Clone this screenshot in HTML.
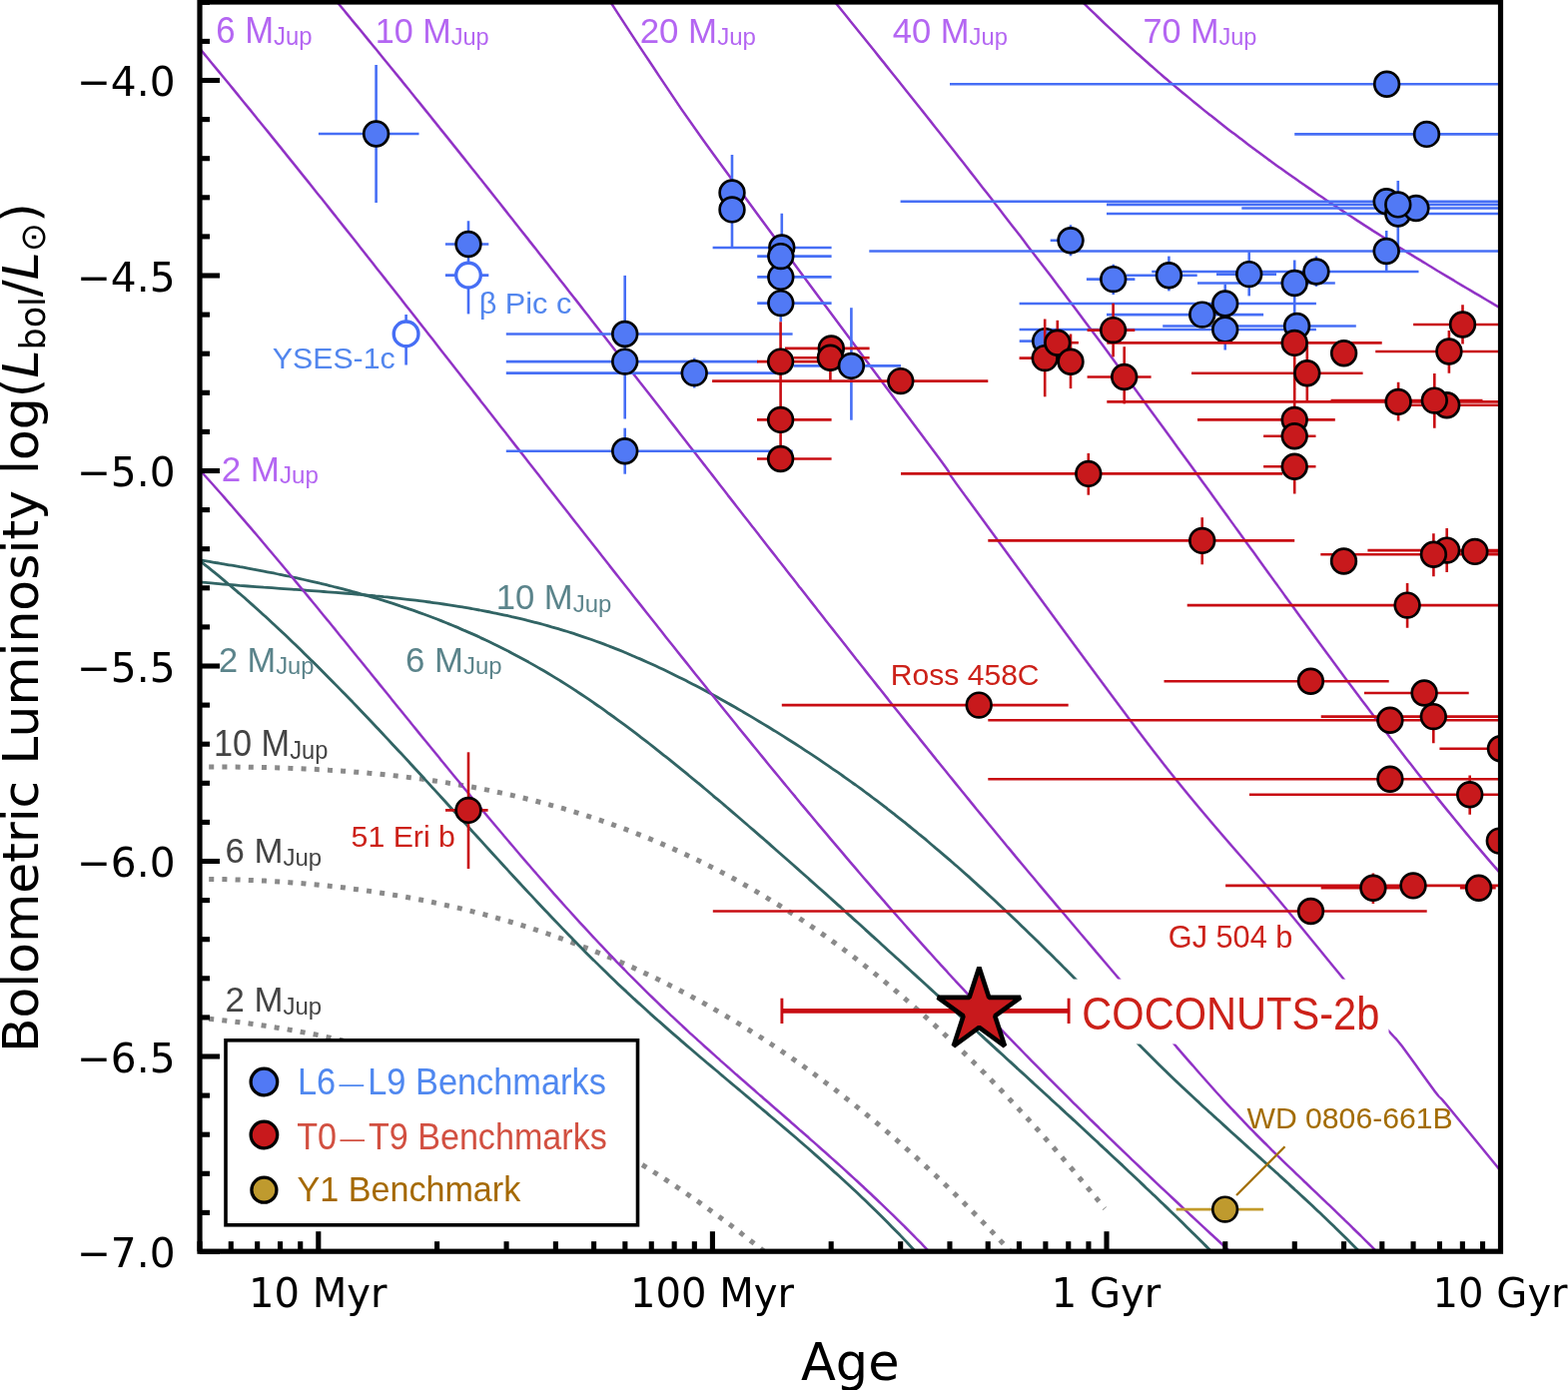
<!DOCTYPE html><html><head><meta charset="utf-8"><style>html,body{margin:0;padding:0;background:#fff;overflow:hidden}svg{display:block}</style></head><body><svg width="1570" height="1392" viewBox="0 0 1570 1392"><rect width="100%" height="100%" fill="#fff"/><defs><clipPath id="ax"><rect x="200" y="2" width="1302.5" height="1251.2"/></clipPath></defs>
<g clip-path="url(#ax)">
<path d="M209.2,768.1 C210.5,768.1 214.5,768.1 217.2,768.1 C219.9,768.1 222.5,768.1 225.2,768.1 C227.9,768.1 230.6,768.1 233.2,768.1 C235.9,768.1 238.6,768.1 241.2,768.2 C243.9,768.2 246.6,768.2 249.2,768.3 C251.9,768.3 254.6,768.4 257.3,768.4 C259.9,768.5 262.6,768.5 265.3,768.6 C267.9,768.6 270.6,768.7 273.3,768.8 C275.9,768.8 278.6,768.9 281.3,769.0 C284.0,769.1 286.6,769.2 289.3,769.3 C292.0,769.3 294.6,769.5 297.3,769.6 C300.0,769.7 302.6,769.8 305.3,769.9 C308.0,770.0 310.6,770.1 313.3,770.3 C316.0,770.4 318.7,770.6 321.3,770.7 C324.0,770.9 326.7,771.0 329.3,771.2 C332.0,771.3 334.7,771.5 337.3,771.7 C340.0,771.9 342.7,772.0 345.4,772.2 C348.0,772.4 350.7,772.6 353.4,772.8 C356.0,773.1 358.7,773.3 361.4,773.5 C364.0,773.7 366.7,773.9 369.4,774.2 C372.0,774.4 374.7,774.7 377.4,774.9 C380.1,775.2 382.7,775.5 385.4,775.7 C388.1,776.0 390.7,776.3 393.4,776.6 C396.1,776.9 398.7,777.2 401.4,777.5 C404.1,777.8 406.8,778.1 409.4,778.5 C412.1,778.8 414.8,779.1 417.4,779.5 C420.1,779.8 422.8,780.2 425.4,780.6 C428.1,780.9 430.8,781.3 433.4,781.7 C436.1,782.1 438.8,782.5 441.5,782.9 C444.1,783.3 446.8,783.7 449.5,784.2 C452.1,784.6 454.8,785.0 457.5,785.5 C460.1,785.9 462.8,786.4 465.5,786.9 C468.2,787.4 470.8,787.8 473.5,788.3 C476.2,788.8 478.8,789.3 481.5,789.9 C484.2,790.4 486.8,790.9 489.5,791.4 C492.2,792.0 494.9,792.5 497.5,793.1 C500.2,793.7 502.9,794.2 505.5,794.8 C508.2,795.4 510.9,796.0 513.5,796.6 C516.2,797.3 518.9,797.9 521.5,798.5 C524.2,799.2 526.9,799.8 529.6,800.5 C532.2,801.1 534.9,801.8 537.6,802.5 C540.2,803.2 542.9,803.9 545.6,804.6 C548.2,805.3 550.9,806.0 553.6,806.8 C556.3,807.5 558.9,808.3 561.6,809.1 C564.3,809.8 566.9,810.6 569.6,811.4 C572.3,812.2 574.9,813.0 577.6,813.8 C580.3,814.7 582.9,815.5 585.6,816.3 C588.3,817.2 591.0,818.1 593.6,818.9 C596.3,819.8 599.0,820.7 601.6,821.6 C604.3,822.5 607.0,823.5 609.6,824.4 C612.3,825.3 615.0,826.3 617.7,827.3 C620.3,828.2 623.0,829.2 625.7,830.2 C628.3,831.2 631.0,832.2 633.7,833.2 C636.3,834.3 639.0,835.3 641.7,836.4 C644.4,837.4 647.0,838.5 649.7,839.6 C652.4,840.7 655.0,841.8 657.7,842.9 C660.4,844.1 663.0,845.2 665.7,846.4 C668.4,847.5 671.0,848.7 673.7,849.9 C676.4,851.1 679.1,852.3 681.7,853.5 C684.4,854.7 687.1,856.0 689.7,857.2 C692.4,858.5 695.1,859.8 697.7,861.0 C700.4,862.3 703.1,863.6 705.8,865.0 C708.4,866.3 711.1,867.6 713.8,869.0 C716.4,870.4 719.1,871.7 721.8,873.1 C724.4,874.5 727.1,875.9 729.8,877.4 C732.5,878.8 735.1,880.3 737.8,881.7 C740.5,883.2 743.1,884.7 745.8,886.2 C748.5,887.7 751.1,889.2 753.8,890.8 C756.5,892.3 759.1,893.9 761.8,895.5 C764.5,897.0 767.2,898.6 769.8,900.3 C772.5,901.9 775.2,903.5 777.8,905.2 C780.5,906.8 783.2,908.5 785.8,910.2 C788.5,911.9 791.2,913.6 793.9,915.3 C796.5,917.1 799.2,918.8 801.9,920.6 C804.5,922.4 807.2,924.2 809.9,926.0 C812.5,927.8 815.2,929.6 817.9,931.5 C820.5,933.4 823.2,935.2 825.9,937.1 C828.6,939.0 831.2,940.9 833.9,942.9 C836.6,944.8 839.2,946.8 841.9,948.7 C844.6,950.7 847.2,952.7 849.9,954.7 C852.6,956.7 855.3,958.8 857.9,960.8 C860.6,962.9 863.3,965.0 865.9,967.1 C868.6,969.2 871.3,971.3 873.9,973.4 C876.6,975.6 879.3,977.7 882.0,979.9 C884.6,982.1 887.3,984.3 890.0,986.5 C892.6,988.7 895.3,991.0 898.0,993.2 C900.6,995.5 903.3,997.8 906.0,1000.0 C908.6,1002.3 911.3,1004.7 914.0,1007.0 C916.7,1009.3 919.3,1011.7 922.0,1014.1 C924.7,1016.5 927.3,1018.9 930.0,1021.3 C932.7,1023.7 935.3,1026.1 938.0,1028.6 C940.7,1031.1 943.4,1033.6 946.0,1036.1 C948.7,1038.6 951.4,1041.1 954.0,1043.6 C956.7,1046.2 959.4,1048.7 962.0,1051.3 C964.7,1053.9 967.4,1056.5 970.0,1059.1 C972.7,1061.7 975.4,1064.4 978.1,1067.0 C980.7,1069.7 983.4,1072.4 986.1,1075.1 C988.7,1077.8 991.4,1080.5 994.1,1083.3 C996.7,1086.0 999.4,1088.8 1002.1,1091.6 C1004.8,1094.3 1007.4,1097.1 1010.1,1100.0 C1012.8,1102.8 1015.4,1105.6 1018.1,1108.5 C1020.8,1111.4 1023.4,1114.3 1026.1,1117.2 C1028.8,1120.1 1031.4,1123.0 1034.1,1125.9 C1036.8,1128.9 1039.5,1131.8 1042.1,1134.8 C1044.8,1137.8 1047.5,1140.8 1050.1,1143.9 C1052.8,1146.9 1055.5,1149.9 1058.1,1153.0 C1060.8,1156.1 1063.5,1159.2 1066.2,1162.3 C1068.8,1165.4 1071.5,1168.5 1074.2,1171.6 C1076.8,1174.8 1079.5,1178.0 1082.2,1181.2 C1084.8,1184.3 1087.5,1187.6 1090.2,1190.8 C1092.9,1194.0 1095.5,1197.3 1098.2,1200.5 C1100.9,1203.8 1104.9,1208.8 1106.2,1210.4" fill="none" stroke="#8a8a8a" stroke-width="5" stroke-linejoin="round" stroke-linecap="butt" stroke-dasharray="5 8.2"/>
<path d="M209.2,880.4 C210.5,880.4 214.6,880.4 217.2,880.5 C219.9,880.5 222.6,880.6 225.3,880.6 C228.0,880.7 230.6,880.8 233.3,880.8 C236.0,880.9 238.7,881.0 241.4,881.1 C244.0,881.2 246.7,881.3 249.4,881.4 C252.1,881.5 254.7,881.6 257.4,881.7 C260.1,881.9 262.8,882.0 265.5,882.1 C268.1,882.3 270.8,882.4 273.5,882.6 C276.2,882.8 278.9,882.9 281.5,883.1 C284.2,883.3 286.9,883.5 289.6,883.7 C292.3,883.9 294.9,884.1 297.6,884.3 C300.3,884.5 303.0,884.7 305.7,884.9 C308.3,885.2 311.0,885.4 313.7,885.7 C316.4,885.9 319.1,886.2 321.7,886.5 C324.4,886.7 327.1,887.0 329.8,887.3 C332.4,887.6 335.1,887.9 337.8,888.2 C340.5,888.5 343.2,888.8 345.8,889.1 C348.5,889.5 351.2,889.8 353.9,890.2 C356.6,890.5 359.2,890.9 361.9,891.2 C364.6,891.6 367.3,892.0 370.0,892.4 C372.6,892.8 375.3,893.2 378.0,893.6 C380.7,894.0 383.4,894.4 386.0,894.8 C388.7,895.3 391.4,895.7 394.1,896.2 C396.8,896.6 399.4,897.1 402.1,897.5 C404.8,898.0 407.5,898.5 410.1,899.0 C412.8,899.5 415.5,900.0 418.2,900.5 C420.9,901.0 423.5,901.6 426.2,902.1 C428.9,902.6 431.6,903.2 434.3,903.8 C436.9,904.3 439.6,904.9 442.3,905.5 C445.0,906.1 447.7,906.7 450.3,907.3 C453.0,907.9 455.7,908.5 458.4,909.1 C461.1,909.8 463.7,910.4 466.4,911.1 C469.1,911.7 471.8,912.4 474.5,913.1 C477.1,913.8 479.8,914.5 482.5,915.2 C485.2,915.9 487.9,916.6 490.5,917.3 C493.2,918.1 495.9,918.8 498.6,919.6 C501.2,920.3 503.9,921.1 506.6,921.9 C509.3,922.6 512.0,923.4 514.6,924.2 C517.3,925.0 520.0,925.9 522.7,926.7 C525.4,927.5 528.0,928.4 530.7,929.2 C533.4,930.1 536.1,931.0 538.8,931.8 C541.4,932.7 544.1,933.6 546.8,934.5 C549.5,935.5 552.2,936.4 554.8,937.3 C557.5,938.3 560.2,939.2 562.9,940.2 C565.6,941.1 568.2,942.1 570.9,943.1 C573.6,944.1 576.3,945.1 578.9,946.1 C581.6,947.1 584.3,948.2 587.0,949.2 C589.7,950.3 592.3,951.3 595.0,952.4 C597.7,953.5 600.4,954.6 603.1,955.7 C605.7,956.8 608.4,957.9 611.1,959.0 C613.8,960.2 616.5,961.3 619.1,962.5 C621.8,963.6 624.5,964.8 627.2,966.0 C629.9,967.2 632.5,968.4 635.2,969.6 C637.9,970.9 640.6,972.1 643.3,973.3 C645.9,974.6 648.6,975.9 651.3,977.1 C654.0,978.4 656.6,979.7 659.3,981.0 C662.0,982.3 664.7,983.7 667.4,985.0 C670.0,986.4 672.7,987.7 675.4,989.1 C678.1,990.5 680.8,991.9 683.4,993.3 C686.1,994.7 688.8,996.1 691.5,997.5 C694.2,999.0 696.8,1000.4 699.5,1001.9 C702.2,1003.3 704.9,1004.8 707.6,1006.3 C710.2,1007.8 712.9,1009.3 715.6,1010.9 C718.3,1012.4 721.0,1014.0 723.6,1015.5 C726.3,1017.1 729.0,1018.7 731.7,1020.3 C734.3,1021.9 737.0,1023.5 739.7,1025.1 C742.4,1026.7 745.1,1028.4 747.7,1030.1 C750.4,1031.7 753.1,1033.4 755.8,1035.1 C758.5,1036.8 761.1,1038.5 763.8,1040.2 C766.5,1042.0 769.2,1043.7 771.9,1045.5 C774.5,1047.3 777.2,1049.0 779.9,1050.8 C782.6,1052.7 785.3,1054.5 787.9,1056.3 C790.6,1058.1 793.3,1060.0 796.0,1061.9 C798.7,1063.7 801.3,1065.6 804.0,1067.5 C806.7,1069.4 809.4,1071.4 812.0,1073.3 C814.7,1075.2 817.4,1077.2 820.1,1079.2 C822.8,1081.2 825.4,1083.2 828.1,1085.2 C830.8,1087.2 833.5,1089.2 836.2,1091.3 C838.8,1093.3 841.5,1095.4 844.2,1097.5 C846.9,1099.6 849.6,1101.7 852.2,1103.8 C854.9,1105.9 857.6,1108.1 860.3,1110.2 C863.0,1112.4 865.6,1114.6 868.3,1116.8 C871.0,1119.0 873.7,1121.2 876.4,1123.4 C879.0,1125.6 881.7,1127.9 884.4,1130.2 C887.1,1132.5 889.8,1134.7 892.4,1137.1 C895.1,1139.4 897.8,1141.7 900.5,1144.1 C903.1,1146.4 905.8,1148.8 908.5,1151.2 C911.2,1153.6 913.9,1156.0 916.5,1158.4 C919.2,1160.8 921.9,1163.3 924.6,1165.8 C927.3,1168.2 929.9,1170.7 932.6,1173.2 C935.3,1175.7 938.0,1178.3 940.7,1180.8 C943.3,1183.4 946.0,1185.9 948.7,1188.5 C951.4,1191.1 954.1,1193.7 956.7,1196.3 C959.4,1199.0 962.1,1201.6 964.8,1204.3 C967.5,1207.0 970.1,1209.7 972.8,1212.4 C975.5,1215.1 978.2,1217.8 980.8,1220.6 C983.5,1223.3 986.2,1226.1 988.9,1228.9 C991.6,1231.7 994.2,1234.5 996.9,1237.3 C999.6,1240.2 1002.3,1243.0 1005.0,1245.9 C1007.6,1248.8 1011.7,1253.2 1013.0,1254.6" fill="none" stroke="#8a8a8a" stroke-width="5" stroke-linejoin="round" stroke-linecap="butt" stroke-dasharray="5 8.2"/>
<path d="M209.2,1020.3 C210.5,1020.5 214.6,1020.9 217.3,1021.1 C220.0,1021.4 222.7,1021.7 225.4,1022.0 C228.1,1022.3 230.8,1022.6 233.5,1022.9 C236.1,1023.3 238.8,1023.6 241.5,1023.9 C244.2,1024.3 246.9,1024.6 249.6,1025.0 C252.3,1025.4 255.0,1025.7 257.7,1026.1 C260.4,1026.5 263.1,1026.9 265.8,1027.3 C268.5,1027.7 271.2,1028.1 273.9,1028.6 C276.6,1029.0 279.3,1029.4 282.0,1029.9 C284.7,1030.3 287.3,1030.8 290.0,1031.3 C292.7,1031.7 295.4,1032.2 298.1,1032.7 C300.8,1033.2 303.5,1033.7 306.2,1034.2 C308.9,1034.7 311.6,1035.3 314.3,1035.8 C317.0,1036.4 319.7,1036.9 322.4,1037.5 C325.1,1038.0 327.8,1038.6 330.5,1039.2 C333.2,1039.8 335.9,1040.4 338.5,1041.0 C341.2,1041.6 343.9,1042.2 346.6,1042.9 C349.3,1043.5 352.0,1044.1 354.7,1044.8 C357.4,1045.5 360.1,1046.1 362.8,1046.8 C365.5,1047.5 368.2,1048.2 370.9,1048.9 C373.6,1049.6 376.3,1050.3 379.0,1051.0 C381.7,1051.8 384.4,1052.5 387.0,1053.3 C389.7,1054.0 392.4,1054.8 395.1,1055.6 C397.8,1056.4 400.5,1057.2 403.2,1058.0 C405.9,1058.8 408.6,1059.6 411.3,1060.4 C414.0,1061.3 416.7,1062.1 419.4,1063.0 C422.1,1063.8 424.8,1064.7 427.5,1065.6 C430.2,1066.5 432.9,1067.4 435.6,1068.3 C438.2,1069.2 440.9,1070.1 443.6,1071.1 C446.3,1072.0 449.0,1072.9 451.7,1073.9 C454.4,1074.9 457.1,1075.9 459.8,1076.8 C462.5,1077.8 465.2,1078.8 467.9,1079.9 C470.6,1080.9 473.3,1081.9 476.0,1083.0 C478.7,1084.0 481.4,1085.1 484.1,1086.1 C486.8,1087.2 489.4,1088.3 492.1,1089.4 C494.8,1090.5 497.5,1091.6 500.2,1092.7 C502.9,1093.9 505.6,1095.0 508.3,1096.2 C511.0,1097.3 513.7,1098.5 516.4,1099.7 C519.1,1100.9 521.8,1102.1 524.5,1103.3 C527.2,1104.5 529.9,1105.7 532.6,1107.0 C535.3,1108.2 538.0,1109.5 540.6,1110.8 C543.3,1112.0 546.0,1113.3 548.7,1114.6 C551.4,1115.9 554.1,1117.3 556.8,1118.6 C559.5,1119.9 562.2,1121.3 564.9,1122.6 C567.6,1124.0 570.3,1125.4 573.0,1126.8 C575.7,1128.2 578.4,1129.6 581.1,1131.0 C583.8,1132.4 586.5,1133.9 589.2,1135.3 C591.8,1136.8 594.5,1138.2 597.2,1139.7 C599.9,1141.2 602.6,1142.7 605.3,1144.2 C608.0,1145.7 610.7,1147.3 613.4,1148.8 C616.1,1150.4 618.8,1151.9 621.5,1153.5 C624.2,1155.1 626.9,1156.7 629.6,1158.3 C632.3,1159.9 635.0,1161.5 637.7,1163.2 C640.3,1164.8 643.0,1166.5 645.7,1168.1 C648.4,1169.8 651.1,1171.5 653.8,1173.2 C656.5,1174.9 659.2,1176.6 661.9,1178.4 C664.6,1180.1 667.3,1181.9 670.0,1183.7 C672.7,1185.4 675.4,1187.2 678.1,1189.0 C680.8,1190.8 683.5,1192.7 686.2,1194.5 C688.9,1196.3 691.5,1198.2 694.2,1200.1 C696.9,1201.9 699.6,1203.8 702.3,1205.7 C705.0,1207.6 707.7,1209.6 710.4,1211.5 C713.1,1213.4 715.8,1215.4 718.5,1217.4 C721.2,1219.3 723.9,1221.3 726.6,1223.3 C729.3,1225.4 732.0,1227.4 734.7,1229.4 C737.4,1231.5 740.1,1233.5 742.7,1235.6 C745.4,1237.7 748.1,1239.8 750.8,1241.9 C753.5,1244.0 756.2,1246.1 758.9,1248.3 C761.6,1250.4 765.7,1253.7 767.0,1254.8" fill="none" stroke="#8a8a8a" stroke-width="5" stroke-linejoin="round" stroke-linecap="butt" stroke-dasharray="5 8.2"/>
<path d="M200.0,583.0 C201.3,583.1 205.3,583.5 208.0,583.7 C210.7,584.0 213.3,584.2 216.0,584.4 C218.7,584.7 221.4,584.9 224.0,585.1 C226.7,585.3 229.4,585.5 232.0,585.7 C234.7,586.0 237.4,586.2 240.0,586.4 C242.7,586.6 245.4,586.8 248.0,587.0 C250.7,587.2 253.4,587.4 256.0,587.6 C258.7,587.8 261.4,588.0 264.1,588.2 C266.7,588.3 269.4,588.5 272.1,588.7 C274.7,588.9 277.4,589.1 280.1,589.3 C282.7,589.5 285.4,589.7 288.1,589.9 C290.7,590.1 293.4,590.2 296.1,590.4 C298.8,590.6 301.4,590.8 304.1,591.0 C306.8,591.2 309.4,591.4 312.1,591.6 C314.8,591.8 317.4,592.0 320.1,592.2 C322.8,592.4 325.4,592.6 328.1,592.8 C330.8,593.0 333.4,593.2 336.1,593.4 C338.8,593.6 341.5,593.8 344.1,594.0 C346.8,594.3 349.5,594.5 352.1,594.7 C354.8,594.9 357.5,595.2 360.1,595.4 C362.8,595.6 365.5,595.9 368.1,596.1 C370.8,596.4 373.5,596.6 376.2,596.9 C378.8,597.1 381.5,597.4 384.2,597.7 C386.8,597.9 389.5,598.2 392.2,598.5 C394.8,598.8 397.5,599.1 400.2,599.4 C402.8,599.7 405.5,600.0 408.2,600.3 C410.8,600.6 413.5,600.9 416.2,601.2 C418.9,601.6 421.5,601.9 424.2,602.2 C426.9,602.6 429.5,602.9 432.2,603.3 C434.9,603.7 437.5,604.0 440.2,604.4 C442.9,604.8 445.5,605.2 448.2,605.6 C450.9,606.0 453.6,606.4 456.2,606.8 C458.9,607.3 461.6,607.7 464.2,608.1 C466.9,608.6 469.6,609.1 472.2,609.5 C474.9,610.0 477.6,610.5 480.2,611.0 C482.9,611.5 485.6,612.0 488.2,612.5 C490.9,613.0 493.6,613.6 496.3,614.1 C498.9,614.6 501.6,615.2 504.3,615.8 C506.9,616.4 509.6,616.9 512.3,617.6 C514.9,618.2 517.6,618.8 520.3,619.4 C522.9,620.0 525.6,620.7 528.3,621.4 C531.0,622.0 533.6,622.7 536.3,623.4 C539.0,624.1 541.6,624.8 544.3,625.5 C547.0,626.3 549.6,627.0 552.3,627.8 C555.0,628.5 557.6,629.3 560.3,630.1 C563.0,630.9 565.6,631.7 568.3,632.5 C571.0,633.4 573.7,634.2 576.3,635.1 C579.0,636.0 581.7,636.9 584.3,637.8 C587.0,638.7 589.7,639.6 592.3,640.5 C595.0,641.5 597.7,642.5 600.3,643.4 C603.0,644.4 605.7,645.4 608.4,646.5 C611.0,647.5 613.7,648.5 616.4,649.6 C619.0,650.6 621.7,651.7 624.4,652.8 C627.0,653.9 629.7,655.0 632.4,656.2 C635.0,657.3 637.7,658.4 640.4,659.6 C643.0,660.8 645.7,662.0 648.4,663.2 C651.1,664.4 653.7,665.6 656.4,666.8 C659.1,668.1 661.7,669.3 664.4,670.6 C667.1,671.9 669.7,673.1 672.4,674.4 C675.1,675.8 677.7,677.1 680.4,678.4 C683.1,679.7 685.8,681.1 688.4,682.4 C691.1,683.8 693.8,685.2 696.4,686.6 C699.1,688.0 701.8,689.4 704.4,690.8 C707.1,692.2 709.8,693.7 712.4,695.1 C715.1,696.6 717.8,698.0 720.4,699.5 C723.1,701.0 725.8,702.5 728.5,704.0 C731.1,705.5 733.8,707.0 736.5,708.5 C739.1,710.1 741.8,711.6 744.5,713.2 C747.1,714.7 749.8,716.3 752.5,717.9 C755.1,719.5 757.8,721.1 760.5,722.7 C763.2,724.3 765.8,725.9 768.5,727.5 C771.2,729.1 773.8,730.8 776.5,732.4 C779.2,734.1 781.8,735.7 784.5,737.4 C787.2,739.1 789.8,740.8 792.5,742.5 C795.2,744.2 797.8,745.9 800.5,747.6 C803.2,749.4 805.9,751.1 808.5,752.9 C811.2,754.6 813.9,756.4 816.5,758.2 C819.2,760.0 821.9,761.8 824.5,763.6 C827.2,765.4 829.9,767.2 832.5,769.1 C835.2,770.9 837.9,772.8 840.6,774.6 C843.2,776.5 845.9,778.4 848.6,780.3 C851.2,782.2 853.9,784.1 856.6,786.0 C859.2,788.0 861.9,789.9 864.6,791.9 C867.2,793.9 869.9,795.9 872.6,797.9 C875.2,799.9 877.9,801.9 880.6,803.9 C883.3,805.9 885.9,808.0 888.6,810.1 C891.3,812.1 893.9,814.2 896.6,816.3 C899.3,818.4 901.9,820.5 904.6,822.7 C907.3,824.8 909.9,827.0 912.6,829.1 C915.3,831.3 918.0,833.5 920.6,835.7 C923.3,837.9 926.0,840.1 928.6,842.3 C931.3,844.6 934.0,846.8 936.6,849.1 C939.3,851.3 942.0,853.6 944.6,855.9 C947.3,858.2 950.0,860.5 952.6,862.8 C955.3,865.2 958.0,867.5 960.7,869.8 C963.3,872.2 966.0,874.6 968.7,876.9 C971.3,879.3 974.0,881.7 976.7,884.1 C979.3,886.5 982.0,889.0 984.7,891.4 C987.3,893.8 990.0,896.3 992.7,898.8 C995.4,901.2 998.0,903.7 1000.7,906.2 C1003.4,908.7 1006.0,911.2 1008.7,913.7 C1011.4,916.2 1014.0,918.8 1016.7,921.3 C1019.4,923.8 1022.0,926.4 1024.7,929.0 C1027.4,931.5 1030.0,934.1 1032.7,936.7 C1035.4,939.3 1038.1,941.9 1040.7,944.5 C1043.4,947.2 1046.1,949.8 1048.7,952.4 C1051.4,955.1 1054.1,957.7 1056.7,960.4 C1059.4,963.1 1062.1,965.7 1064.7,968.4 C1067.4,971.1 1070.1,973.8 1072.8,976.5 C1075.4,979.2 1078.1,982.0 1080.8,984.7 C1083.4,987.4 1086.1,990.2 1088.8,992.9 C1091.4,995.7 1094.1,998.4 1096.8,1001.2 C1099.4,1003.9 1102.1,1006.7 1104.8,1009.5 C1107.4,1012.2 1110.1,1015.0 1112.8,1017.8 C1115.5,1020.5 1118.1,1023.3 1120.8,1026.0 C1123.5,1028.8 1126.1,1031.5 1128.8,1034.3 C1131.5,1037.0 1134.1,1039.7 1136.8,1042.4 C1139.5,1045.2 1142.1,1047.9 1144.8,1050.5 C1147.5,1053.2 1150.2,1055.9 1152.8,1058.5 C1155.5,1061.2 1158.2,1063.8 1160.8,1066.4 C1163.5,1069.0 1166.2,1071.6 1168.8,1074.2 C1171.5,1076.8 1174.2,1079.4 1176.8,1081.9 C1179.5,1084.4 1182.2,1087.0 1184.8,1089.5 C1187.5,1092.0 1190.2,1094.5 1192.9,1097.0 C1195.5,1099.5 1198.2,1102.0 1200.9,1104.4 C1203.5,1106.9 1206.2,1109.4 1208.9,1111.8 C1211.5,1114.3 1214.2,1116.7 1216.9,1119.1 C1219.5,1121.6 1222.2,1124.0 1224.9,1126.4 C1227.6,1128.8 1230.2,1131.2 1232.9,1133.7 C1235.6,1136.1 1238.2,1138.5 1240.9,1140.9 C1243.6,1143.3 1246.2,1145.7 1248.9,1148.1 C1251.6,1150.5 1254.2,1152.9 1256.9,1155.3 C1259.6,1157.7 1262.2,1160.1 1264.9,1162.5 C1267.6,1164.9 1270.3,1167.3 1272.9,1169.8 C1275.6,1172.2 1278.3,1174.6 1280.9,1177.0 C1283.6,1179.5 1286.3,1181.9 1288.9,1184.3 C1291.6,1186.8 1294.3,1189.2 1296.9,1191.7 C1299.6,1194.1 1302.3,1196.6 1305.0,1199.1 C1307.6,1201.5 1310.3,1204.0 1313.0,1206.5 C1315.6,1209.0 1318.3,1211.5 1321.0,1214.1 C1323.6,1216.6 1326.3,1219.1 1329.0,1221.7 C1331.6,1224.3 1334.3,1226.8 1337.0,1229.4 C1339.6,1232.0 1342.3,1234.6 1345.0,1237.3 C1347.7,1239.9 1350.3,1242.5 1353.0,1245.2 C1355.7,1247.9 1359.7,1251.9 1361.0,1253.3" fill="none" stroke="#316464" stroke-width="2.8" stroke-linejoin="round" stroke-linecap="butt" />
<path d="M200.0,560.8 C201.3,561.0 205.4,561.7 208.0,562.1 C210.7,562.6 213.4,563.0 216.1,563.5 C218.7,563.9 221.4,564.4 224.1,564.8 C226.8,565.3 229.4,565.8 232.1,566.2 C234.8,566.7 237.5,567.2 240.2,567.7 C242.8,568.1 245.5,568.6 248.2,569.1 C250.9,569.6 253.5,570.1 256.2,570.6 C258.9,571.1 261.6,571.6 264.3,572.1 C266.9,572.7 269.6,573.2 272.3,573.7 C275.0,574.2 277.6,574.8 280.3,575.3 C283.0,575.9 285.7,576.4 288.3,577.0 C291.0,577.6 293.7,578.1 296.4,578.7 C299.1,579.3 301.7,579.9 304.4,580.5 C307.1,581.1 309.8,581.7 312.4,582.3 C315.1,582.9 317.8,583.5 320.5,584.2 C323.2,584.8 325.8,585.5 328.5,586.1 C331.2,586.8 333.9,587.4 336.5,588.1 C339.2,588.8 341.9,589.5 344.6,590.2 C347.2,590.9 349.9,591.6 352.6,592.4 C355.3,593.1 358.0,593.8 360.6,594.6 C363.3,595.3 366.0,596.1 368.7,596.9 C371.3,597.6 374.0,598.4 376.7,599.2 C379.4,600.0 382.1,600.9 384.7,601.7 C387.4,602.5 390.1,603.4 392.8,604.2 C395.4,605.1 398.1,606.0 400.8,606.9 C403.5,607.7 406.1,608.7 408.8,609.6 C411.5,610.5 414.2,611.4 416.9,612.4 C419.5,613.3 422.2,614.3 424.9,615.3 C427.6,616.3 430.2,617.3 432.9,618.3 C435.6,619.3 438.3,620.3 441.0,621.4 C443.6,622.5 446.3,623.5 449.0,624.6 C451.7,625.7 454.3,626.8 457.0,627.9 C459.7,629.1 462.4,630.2 465.0,631.4 C467.7,632.5 470.4,633.7 473.1,634.9 C475.8,636.1 478.4,637.3 481.1,638.6 C483.8,639.8 486.5,641.1 489.1,642.3 C491.8,643.6 494.5,644.9 497.2,646.2 C499.9,647.6 502.5,648.9 505.2,650.3 C507.9,651.6 510.6,653.0 513.2,654.4 C515.9,655.8 518.6,657.2 521.3,658.7 C523.9,660.1 526.6,661.6 529.3,663.1 C532.0,664.6 534.7,666.1 537.3,667.6 C540.0,669.2 542.7,670.7 545.4,672.3 C548.0,673.9 550.7,675.5 553.4,677.1 C556.1,678.7 558.8,680.4 561.4,682.0 C564.1,683.7 566.8,685.4 569.5,687.1 C572.1,688.8 574.8,690.6 577.5,692.3 C580.2,694.1 582.8,695.9 585.5,697.7 C588.2,699.5 590.9,701.3 593.6,703.2 C596.2,705.0 598.9,706.9 601.6,708.7 C604.3,710.6 606.9,712.5 609.6,714.5 C612.3,716.4 615.0,718.3 617.7,720.3 C620.3,722.2 623.0,724.2 625.7,726.2 C628.4,728.2 631.0,730.2 633.7,732.2 C636.4,734.2 639.1,736.3 641.7,738.3 C644.4,740.4 647.1,742.4 649.8,744.5 C652.5,746.6 655.1,748.7 657.8,750.8 C660.5,752.9 663.2,755.0 665.8,757.2 C668.5,759.3 671.2,761.4 673.9,763.6 C676.6,765.8 679.2,767.9 681.9,770.1 C684.6,772.3 687.3,774.5 689.9,776.7 C692.6,778.9 695.3,781.1 698.0,783.3 C700.6,785.5 703.3,787.8 706.0,790.0 C708.7,792.2 711.4,794.5 714.0,796.8 C716.7,799.0 719.4,801.3 722.1,803.5 C724.7,805.8 727.4,808.1 730.1,810.4 C732.8,812.7 735.4,815.0 738.1,817.3 C740.8,819.6 743.5,821.9 746.2,824.2 C748.8,826.5 751.5,828.8 754.2,831.1 C756.9,833.5 759.5,835.8 762.2,838.1 C764.9,840.5 767.6,842.8 770.3,845.1 C772.9,847.5 775.6,849.8 778.3,852.2 C781.0,854.5 783.6,856.9 786.3,859.2 C789.0,861.6 791.7,864.0 794.3,866.3 C797.0,868.7 799.7,871.1 802.4,873.5 C805.1,875.8 807.7,878.2 810.4,880.6 C813.1,883.0 815.8,885.4 818.4,887.7 C821.1,890.1 823.8,892.5 826.5,894.9 C829.2,897.3 831.8,899.7 834.5,902.1 C837.2,904.5 839.9,906.9 842.5,909.3 C845.2,911.7 847.9,914.2 850.6,916.6 C853.2,919.0 855.9,921.4 858.6,923.8 C861.3,926.2 864.0,928.7 866.6,931.1 C869.3,933.5 872.0,935.9 874.7,938.4 C877.3,940.8 880.0,943.2 882.7,945.7 C885.4,948.1 888.1,950.5 890.7,953.0 C893.4,955.4 896.1,957.8 898.8,960.3 C901.4,962.7 904.1,965.2 906.8,967.6 C909.5,970.0 912.1,972.5 914.8,974.9 C917.5,977.4 920.2,979.8 922.9,982.3 C925.5,984.7 928.2,987.2 930.9,989.6 C933.6,992.0 936.2,994.5 938.9,996.9 C941.6,999.4 944.3,1001.8 947.0,1004.3 C949.6,1006.7 952.3,1009.2 955.0,1011.6 C957.7,1014.1 960.3,1016.6 963.0,1019.0 C965.7,1021.5 968.4,1023.9 971.0,1026.4 C973.7,1028.8 976.4,1031.3 979.1,1033.7 C981.8,1036.2 984.4,1038.6 987.1,1041.1 C989.8,1043.5 992.5,1046.0 995.1,1048.4 C997.8,1050.9 1000.5,1053.3 1003.2,1055.8 C1005.9,1058.2 1008.5,1060.7 1011.2,1063.1 C1013.9,1065.6 1016.6,1068.0 1019.2,1070.5 C1021.9,1072.9 1024.6,1075.4 1027.3,1077.8 C1029.9,1080.3 1032.6,1082.7 1035.3,1085.2 C1038.0,1087.6 1040.7,1090.1 1043.3,1092.5 C1046.0,1095.0 1048.7,1097.5 1051.4,1099.9 C1054.0,1102.4 1056.7,1104.8 1059.4,1107.3 C1062.1,1109.8 1064.8,1112.2 1067.4,1114.7 C1070.1,1117.2 1072.8,1119.6 1075.5,1122.1 C1078.1,1124.6 1080.8,1127.1 1083.5,1129.5 C1086.2,1132.0 1088.8,1134.5 1091.5,1137.0 C1094.2,1139.5 1096.9,1142.0 1099.6,1144.4 C1102.2,1146.9 1104.9,1149.4 1107.6,1151.9 C1110.3,1154.4 1112.9,1156.9 1115.6,1159.4 C1118.3,1161.9 1121.0,1164.4 1123.7,1166.9 C1126.3,1169.4 1129.0,1172.0 1131.7,1174.5 C1134.4,1177.0 1137.0,1179.5 1139.7,1182.0 C1142.4,1184.6 1145.1,1187.1 1147.7,1189.7 C1150.4,1192.2 1153.1,1194.7 1155.8,1197.3 C1158.5,1199.8 1161.1,1202.4 1163.8,1205.0 C1166.5,1207.6 1169.2,1210.1 1171.8,1212.7 C1174.5,1215.3 1177.2,1217.9 1179.9,1220.5 C1182.6,1223.1 1185.2,1225.7 1187.9,1228.4 C1190.6,1231.0 1193.3,1233.7 1195.9,1236.3 C1198.6,1239.0 1201.3,1241.6 1204.0,1244.3 C1206.6,1247.0 1210.7,1251.1 1212.0,1252.4" fill="none" stroke="#316464" stroke-width="2.8" stroke-linejoin="round" stroke-linecap="butt" />
<path d="M200.0,561.6 C201.3,562.6 205.4,565.8 208.1,567.9 C210.7,570.1 213.4,572.2 216.1,574.4 C218.8,576.6 221.5,578.8 224.2,581.1 C226.9,583.3 229.5,585.6 232.2,587.8 C234.9,590.1 237.6,592.4 240.3,594.8 C243.0,597.1 245.7,599.4 248.3,601.8 C251.0,604.2 253.7,606.6 256.4,609.0 C259.1,611.4 261.8,613.8 264.4,616.3 C267.1,618.7 269.8,621.2 272.5,623.7 C275.2,626.1 277.9,628.7 280.6,631.2 C283.2,633.7 285.9,636.2 288.6,638.8 C291.3,641.4 294.0,643.9 296.7,646.5 C299.4,649.1 302.0,651.7 304.7,654.4 C307.4,657.0 310.1,659.6 312.8,662.3 C315.5,664.9 318.2,667.6 320.8,670.3 C323.5,673.0 326.2,675.7 328.9,678.4 C331.6,681.1 334.3,683.8 337.0,686.6 C339.6,689.3 342.3,692.1 345.0,694.8 C347.7,697.6 350.4,700.4 353.1,703.1 C355.8,705.9 358.4,708.7 361.1,711.5 C363.8,714.3 366.5,717.2 369.2,720.0 C371.9,722.8 374.6,725.7 377.2,728.5 C379.9,731.3 382.6,734.2 385.3,737.1 C388.0,739.9 390.7,742.8 393.3,745.7 C396.0,748.6 398.7,751.5 401.4,754.3 C404.1,757.2 406.8,760.1 409.5,763.0 C412.1,766.0 414.8,768.9 417.5,771.8 C420.2,774.7 422.9,777.6 425.6,780.6 C428.3,783.5 430.9,786.4 433.6,789.4 C436.3,792.3 439.0,795.2 441.7,798.2 C444.4,801.1 447.1,804.1 449.7,807.0 C452.4,810.0 455.1,812.9 457.8,815.9 C460.5,818.8 463.2,821.8 465.9,824.7 C468.5,827.7 471.2,830.6 473.9,833.6 C476.6,836.5 479.3,839.5 482.0,842.4 C484.7,845.4 487.3,848.3 490.0,851.3 C492.7,854.2 495.4,857.2 498.1,860.1 C500.8,863.0 503.4,866.0 506.1,868.9 C508.8,871.8 511.5,874.7 514.2,877.7 C516.9,880.6 519.6,883.5 522.2,886.4 C524.9,889.3 527.6,892.2 530.3,895.1 C533.0,897.9 535.7,900.8 538.4,903.7 C541.0,906.5 543.7,909.4 546.4,912.2 C549.1,915.1 551.8,917.9 554.5,920.7 C557.2,923.5 559.8,926.3 562.5,929.1 C565.2,931.9 567.9,934.7 570.6,937.5 C573.3,940.2 576.0,943.0 578.6,945.7 C581.3,948.4 584.0,951.2 586.7,953.9 C589.4,956.6 592.1,959.2 594.8,961.9 C597.4,964.6 600.1,967.2 602.8,969.8 C605.5,972.5 608.2,975.1 610.9,977.7 C613.6,980.3 616.2,982.8 618.9,985.4 C621.6,987.9 624.3,990.4 627.0,992.9 C629.7,995.5 632.3,997.9 635.0,1000.4 C637.7,1002.9 640.4,1005.3 643.1,1007.8 C645.8,1010.2 648.5,1012.6 651.1,1015.1 C653.8,1017.5 656.5,1019.9 659.2,1022.2 C661.9,1024.6 664.6,1027.0 667.3,1029.4 C669.9,1031.7 672.6,1034.1 675.3,1036.4 C678.0,1038.7 680.7,1041.0 683.4,1043.4 C686.1,1045.7 688.7,1048.0 691.4,1050.3 C694.1,1052.6 696.8,1054.9 699.5,1057.2 C702.2,1059.4 704.9,1061.7 707.5,1064.0 C710.2,1066.3 712.9,1068.5 715.6,1070.8 C718.3,1073.0 721.0,1075.3 723.7,1077.6 C726.3,1079.8 729.0,1082.1 731.7,1084.3 C734.4,1086.6 737.1,1088.8 739.8,1091.1 C742.4,1093.3 745.1,1095.6 747.8,1097.8 C750.5,1100.1 753.2,1102.3 755.9,1104.6 C758.6,1106.8 761.2,1109.1 763.9,1111.4 C766.6,1113.6 769.3,1115.9 772.0,1118.2 C774.7,1120.4 777.4,1122.7 780.0,1125.0 C782.7,1127.3 785.4,1129.6 788.1,1131.9 C790.8,1134.2 793.5,1136.5 796.2,1138.8 C798.8,1141.1 801.5,1143.4 804.2,1145.8 C806.9,1148.1 809.6,1150.4 812.3,1152.8 C815.0,1155.2 817.6,1157.5 820.3,1159.9 C823.0,1162.3 825.7,1164.7 828.4,1167.1 C831.1,1169.5 833.8,1171.9 836.4,1174.4 C839.1,1176.8 841.8,1179.3 844.5,1181.7 C847.2,1184.2 849.9,1186.7 852.6,1189.2 C855.2,1191.7 857.9,1194.2 860.6,1196.8 C863.3,1199.3 866.0,1201.9 868.7,1204.5 C871.3,1207.1 874.0,1209.7 876.7,1212.3 C879.4,1215.0 882.1,1217.6 884.8,1220.3 C887.5,1223.0 890.1,1225.7 892.8,1228.4 C895.5,1231.1 898.2,1233.9 900.9,1236.6 C903.6,1239.4 906.3,1242.2 908.9,1245.0 C911.6,1247.9 915.7,1252.2 917.0,1253.6" fill="none" stroke="#316464" stroke-width="2.8" stroke-linejoin="round" stroke-linecap="butt" />
<path d="M200.0,470.5 C201.3,472.0 205.3,476.5 208.0,479.5 C210.7,482.4 213.4,485.5 216.0,488.5 C218.7,491.5 221.4,494.5 224.1,497.6 C226.7,500.7 229.4,503.7 232.1,506.8 C234.8,509.9 237.4,513.0 240.1,516.1 C242.8,519.2 245.5,522.3 248.1,525.4 C250.8,528.5 253.5,531.6 256.2,534.8 C258.8,537.9 261.5,541.1 264.2,544.2 C266.8,547.4 269.5,550.6 272.2,553.7 C274.9,556.9 277.5,560.1 280.2,563.3 C282.9,566.5 285.6,569.7 288.2,572.9 C290.9,576.1 293.6,579.4 296.3,582.6 C298.9,585.8 301.6,589.1 304.3,592.3 C307.0,595.5 309.6,598.8 312.3,602.0 C315.0,605.3 317.7,608.5 320.3,611.8 C323.0,615.1 325.7,618.3 328.4,621.6 C331.0,624.9 333.7,628.2 336.4,631.4 C339.0,634.7 341.7,638.0 344.4,641.3 C347.1,644.6 349.7,647.9 352.4,651.2 C355.1,654.5 357.8,657.8 360.4,661.1 C363.1,664.4 365.8,667.7 368.5,671.0 C371.1,674.3 373.8,677.6 376.5,680.9 C379.2,684.2 381.8,687.5 384.5,690.8 C387.2,694.1 389.9,697.4 392.5,700.7 C395.2,704.0 397.9,707.3 400.5,710.6 C403.2,713.9 405.9,717.2 408.6,720.5 C411.2,723.8 413.9,727.1 416.6,730.4 C419.3,733.7 421.9,737.0 424.6,740.3 C427.3,743.5 430.0,746.8 432.6,750.1 C435.3,753.4 438.0,756.7 440.7,759.9 C443.3,763.2 446.0,766.5 448.7,769.7 C451.4,773.0 454.0,776.3 456.7,779.5 C459.4,782.8 462.1,786.0 464.7,789.3 C467.4,792.5 470.1,795.7 472.7,799.0 C475.4,802.2 478.1,805.4 480.8,808.6 C483.4,811.8 486.1,815.0 488.8,818.2 C491.5,821.4 494.1,824.6 496.8,827.8 C499.5,831.0 502.2,834.1 504.8,837.3 C507.5,840.5 510.2,843.6 512.9,846.8 C515.5,849.9 518.2,853.0 520.9,856.2 C523.6,859.3 526.2,862.4 528.9,865.5 C531.6,868.6 534.2,871.7 536.9,874.7 C539.6,877.8 542.3,880.9 544.9,883.9 C547.6,887.0 550.3,890.0 553.0,893.1 C555.6,896.1 558.3,899.1 561.0,902.1 C563.7,905.1 566.3,908.1 569.0,911.0 C571.7,914.0 574.4,917.0 577.0,919.9 C579.7,922.8 582.4,925.8 585.1,928.7 C587.7,931.6 590.4,934.5 593.1,937.3 C595.8,940.2 598.4,943.1 601.1,945.9 C603.8,948.8 606.4,951.6 609.1,954.4 C611.8,957.2 614.5,960.0 617.1,962.8 C619.8,965.5 622.5,968.3 625.2,971.0 C627.8,973.8 630.5,976.5 633.2,979.2 C635.9,981.9 638.5,984.5 641.2,987.2 C643.9,989.9 646.6,992.5 649.2,995.1 C651.9,997.7 654.6,1000.3 657.3,1002.9 C659.9,1005.5 662.6,1008.0 665.3,1010.6 C667.9,1013.1 670.6,1015.7 673.3,1018.2 C676.0,1020.7 678.6,1023.2 681.3,1025.7 C684.0,1028.2 686.7,1030.6 689.3,1033.1 C692.0,1035.6 694.7,1038.0 697.4,1040.4 C700.0,1042.9 702.7,1045.3 705.4,1047.7 C708.1,1050.1 710.7,1052.5 713.4,1054.9 C716.1,1057.3 718.8,1059.7 721.4,1062.1 C724.1,1064.5 726.8,1066.8 729.5,1069.2 C732.1,1071.6 734.8,1073.9 737.5,1076.3 C740.1,1078.6 742.8,1081.0 745.5,1083.3 C748.2,1085.7 750.8,1088.0 753.5,1090.3 C756.2,1092.7 758.9,1095.0 761.5,1097.3 C764.2,1099.7 766.9,1102.0 769.6,1104.3 C772.2,1106.6 774.9,1109.0 777.6,1111.3 C780.3,1113.6 782.9,1115.9 785.6,1118.3 C788.3,1120.6 791.0,1122.9 793.6,1125.3 C796.3,1127.6 799.0,1130.0 801.6,1132.3 C804.3,1134.6 807.0,1137.0 809.7,1139.3 C812.3,1141.7 815.0,1144.0 817.7,1146.4 C820.4,1148.8 823.0,1151.2 825.7,1153.5 C828.4,1155.9 831.1,1158.3 833.7,1160.7 C836.4,1163.1 839.1,1165.5 841.8,1167.9 C844.4,1170.3 847.1,1172.8 849.8,1175.2 C852.5,1177.6 855.1,1180.1 857.8,1182.5 C860.5,1185.0 863.2,1187.5 865.8,1190.0 C868.5,1192.5 871.2,1195.0 873.8,1197.5 C876.5,1200.0 879.2,1202.5 881.9,1205.1 C884.5,1207.6 887.2,1210.2 889.9,1212.8 C892.6,1215.4 895.2,1218.0 897.9,1220.6 C900.6,1223.2 903.3,1225.9 905.9,1228.5 C908.6,1231.2 911.3,1233.9 914.0,1236.6 C916.6,1239.3 919.3,1242.0 922.0,1244.7 C924.7,1247.5 928.7,1251.7 930.0,1253.1" fill="none" stroke="#9133c6" stroke-width="2.5" stroke-linejoin="round" stroke-linecap="butt" />
<path d="M200.0,48.6 C201.3,50.2 205.4,55.1 208.0,58.3 C210.7,61.6 213.4,64.8 216.1,68.1 C218.8,71.3 221.5,74.6 224.1,77.8 C226.8,81.1 229.5,84.4 232.2,87.6 C234.9,90.9 237.6,94.2 240.2,97.5 C242.9,100.8 245.6,104.1 248.3,107.4 C251.0,110.6 253.6,113.9 256.3,117.2 C259.0,120.6 261.7,123.9 264.4,127.2 C267.1,130.5 269.7,133.8 272.4,137.1 C275.1,140.4 277.8,143.8 280.5,147.1 C283.2,150.4 285.8,153.7 288.5,157.1 C291.2,160.4 293.9,163.8 296.6,167.1 C299.2,170.4 301.9,173.8 304.6,177.1 C307.3,180.5 310.0,183.8 312.7,187.2 C315.3,190.6 318.0,193.9 320.7,197.3 C323.4,200.6 326.1,204.0 328.8,207.4 C331.4,210.8 334.1,214.1 336.8,217.5 C339.5,220.9 342.2,224.3 344.8,227.6 C347.5,231.0 350.2,234.4 352.9,237.8 C355.6,241.2 358.3,244.6 360.9,248.0 C363.6,251.4 366.3,254.8 369.0,258.2 C371.7,261.6 374.3,265.0 377.0,268.4 C379.7,271.8 382.4,275.2 385.1,278.6 C387.8,282.0 390.4,285.4 393.1,288.8 C395.8,292.2 398.5,295.6 401.2,299.0 C403.9,302.5 406.5,305.9 409.2,309.3 C411.9,312.7 414.6,316.1 417.3,319.5 C419.9,323.0 422.6,326.4 425.3,329.8 C428.0,333.2 430.7,336.7 433.4,340.1 C436.0,343.5 438.7,346.9 441.4,350.4 C444.1,353.8 446.8,357.2 449.5,360.7 C452.1,364.1 454.8,367.5 457.5,371.0 C460.2,374.4 462.9,377.8 465.5,381.3 C468.2,384.7 470.9,388.1 473.6,391.6 C476.3,395.0 479.0,398.4 481.6,401.9 C484.3,405.3 487.0,408.8 489.7,412.2 C492.4,415.6 495.1,419.1 497.7,422.5 C500.4,425.9 503.1,429.4 505.8,432.8 C508.5,436.3 511.1,439.7 513.8,443.1 C516.5,446.6 519.2,450.0 521.9,453.4 C524.6,456.9 527.2,460.3 529.9,463.8 C532.6,467.2 535.3,470.6 538.0,474.1 C540.7,477.5 543.3,480.9 546.0,484.4 C548.7,487.8 551.4,491.2 554.1,494.7 C556.7,498.1 559.4,501.5 562.1,505.0 C564.8,508.4 567.5,511.8 570.2,515.2 C572.8,518.7 575.5,522.1 578.2,525.5 C580.9,529.0 583.6,532.4 586.2,535.8 C588.9,539.2 591.6,542.6 594.3,546.1 C597.0,549.5 599.7,552.9 602.3,556.3 C605.0,559.7 607.7,563.1 610.4,566.6 C613.1,570.0 615.8,573.4 618.4,576.8 C621.1,580.2 623.8,583.6 626.5,587.0 C629.2,590.4 631.8,593.8 634.5,597.2 C637.2,600.6 639.9,604.0 642.6,607.4 C645.3,610.8 647.9,614.2 650.6,617.6 C653.3,621.0 656.0,624.4 658.7,627.7 C661.4,631.1 664.0,634.5 666.7,637.9 C669.4,641.3 672.1,644.6 674.8,648.0 C677.4,651.4 680.1,654.8 682.8,658.1 C685.5,661.5 688.2,664.8 690.9,668.2 C693.5,671.6 696.2,674.9 698.9,678.3 C701.6,681.6 704.3,685.0 707.0,688.3 C709.6,691.7 712.3,695.0 715.0,698.3 C717.7,701.7 720.4,705.0 723.0,708.3 C725.7,711.6 728.4,715.0 731.1,718.3 C733.8,721.6 736.5,724.9 739.1,728.2 C741.8,731.5 744.5,734.8 747.2,738.1 C749.9,741.4 752.6,744.7 755.2,748.0 C757.9,751.3 760.6,754.6 763.3,757.9 C766.0,761.1 768.6,764.4 771.3,767.7 C774.0,771.0 776.7,774.2 779.4,777.5 C782.1,780.7 784.7,784.0 787.4,787.2 C790.1,790.5 792.8,793.7 795.5,796.9 C798.2,800.2 800.8,803.4 803.5,806.6 C806.2,809.8 808.9,813.0 811.6,816.3 C814.2,819.5 816.9,822.7 819.6,825.9 C822.3,829.1 825.0,832.2 827.7,835.4 C830.3,838.6 833.0,841.8 835.7,844.9 C838.4,848.1 841.1,851.3 843.8,854.4 C846.4,857.6 849.1,860.7 851.8,863.9 C854.5,867.0 857.2,870.1 859.8,873.2 C862.5,876.4 865.2,879.5 867.9,882.6 C870.6,885.7 873.3,888.8 875.9,891.9 C878.6,895.0 881.3,898.1 884.0,901.1 C886.7,904.2 889.3,907.3 892.0,910.3 C894.7,913.4 897.4,916.4 900.1,919.5 C902.8,922.5 905.4,925.5 908.1,928.6 C910.8,931.6 913.5,934.6 916.2,937.6 C918.9,940.6 921.5,943.6 924.2,946.6 C926.9,949.6 929.6,952.6 932.3,955.5 C934.9,958.5 937.6,961.5 940.3,964.4 C943.0,967.4 945.7,970.3 948.4,973.2 C951.0,976.2 953.7,979.1 956.4,982.0 C959.1,984.9 961.8,987.8 964.5,990.7 C967.1,993.6 969.8,996.5 972.5,999.3 C975.2,1002.2 977.9,1005.1 980.5,1007.9 C983.2,1010.8 985.9,1013.6 988.6,1016.4 C991.3,1019.3 994.0,1022.1 996.6,1024.9 C999.3,1027.7 1002.0,1030.5 1004.7,1033.3 C1007.4,1036.1 1010.1,1038.9 1012.7,1041.6 C1015.4,1044.4 1018.1,1047.2 1020.8,1049.9 C1023.5,1052.7 1026.1,1055.5 1028.8,1058.2 C1031.5,1060.9 1034.2,1063.7 1036.9,1066.4 C1039.6,1069.1 1042.2,1071.8 1044.9,1074.5 C1047.6,1077.2 1050.3,1079.9 1053.0,1082.6 C1055.7,1085.3 1058.3,1088.0 1061.0,1090.7 C1063.7,1093.4 1066.4,1096.0 1069.1,1098.7 C1071.7,1101.4 1074.4,1104.0 1077.1,1106.7 C1079.8,1109.3 1082.5,1112.0 1085.2,1114.6 C1087.8,1117.2 1090.5,1119.9 1093.2,1122.5 C1095.9,1125.1 1098.6,1127.7 1101.2,1130.3 C1103.9,1132.9 1106.6,1135.5 1109.3,1138.1 C1112.0,1140.7 1114.7,1143.3 1117.3,1145.9 C1120.0,1148.5 1122.7,1151.1 1125.4,1153.7 C1128.1,1156.2 1130.8,1158.8 1133.4,1161.4 C1136.1,1163.9 1138.8,1166.5 1141.5,1169.0 C1144.2,1171.6 1146.8,1174.1 1149.5,1176.7 C1152.2,1179.2 1154.9,1181.8 1157.6,1184.3 C1160.3,1186.9 1162.9,1189.4 1165.6,1191.9 C1168.3,1194.4 1171.0,1197.0 1173.7,1199.5 C1176.4,1202.0 1179.0,1204.5 1181.7,1207.0 C1184.4,1209.5 1187.1,1212.1 1189.8,1214.6 C1192.4,1217.1 1195.1,1219.6 1197.8,1222.1 C1200.5,1224.6 1203.2,1227.1 1205.9,1229.6 C1208.5,1232.1 1211.2,1234.5 1213.9,1237.0 C1216.6,1239.5 1219.3,1242.0 1222.0,1244.5 C1224.6,1247.0 1228.7,1250.7 1230.0,1251.9" fill="none" stroke="#9133c6" stroke-width="2.5" stroke-linejoin="round" stroke-linecap="butt" />
<path d="M336.0,0.2 C337.3,1.8 341.3,6.6 344.0,9.8 C346.7,13.1 349.4,16.3 352.0,19.6 C354.7,22.8 357.4,26.0 360.1,29.3 C362.7,32.5 365.4,35.8 368.1,39.1 C370.8,42.3 373.4,45.6 376.1,48.8 C378.8,52.1 381.4,55.4 384.1,58.7 C386.8,61.9 389.5,65.2 392.1,68.5 C394.8,71.8 397.5,75.1 400.2,78.4 C402.8,81.7 405.5,85.0 408.2,88.3 C410.8,91.6 413.5,94.9 416.2,98.2 C418.9,101.5 421.5,104.8 424.2,108.1 C426.9,111.4 429.6,114.8 432.2,118.1 C434.9,121.4 437.6,124.7 440.2,128.1 C442.9,131.4 445.6,134.7 448.3,138.1 C450.9,141.4 453.6,144.7 456.3,148.1 C459.0,151.4 461.6,154.8 464.3,158.1 C467.0,161.5 469.7,164.8 472.3,168.2 C475.0,171.6 477.7,174.9 480.3,178.3 C483.0,181.6 485.7,185.0 488.4,188.4 C491.0,191.7 493.7,195.1 496.4,198.5 C499.1,201.9 501.7,205.2 504.4,208.6 C507.1,212.0 509.8,215.4 512.4,218.8 C515.1,222.2 517.8,225.5 520.4,228.9 C523.1,232.3 525.8,235.7 528.5,239.1 C531.1,242.5 533.8,245.9 536.5,249.3 C539.2,252.7 541.8,256.1 544.5,259.5 C547.2,262.9 549.8,266.3 552.5,269.7 C555.2,273.1 557.9,276.5 560.5,279.9 C563.2,283.3 565.9,286.8 568.6,290.2 C571.2,293.6 573.9,297.0 576.6,300.4 C579.2,303.8 581.9,307.3 584.6,310.7 C587.3,314.1 589.9,317.5 592.6,320.9 C595.3,324.4 598.0,327.8 600.6,331.2 C603.3,334.6 606.0,338.1 608.7,341.5 C611.3,344.9 614.0,348.3 616.7,351.8 C619.3,355.2 622.0,358.6 624.7,362.1 C627.4,365.5 630.0,368.9 632.7,372.4 C635.4,375.8 638.1,379.2 640.7,382.7 C643.4,386.1 646.1,389.5 648.8,393.0 C651.4,396.4 654.1,399.8 656.8,403.3 C659.4,406.7 662.1,410.1 664.8,413.6 C667.5,417.0 670.1,420.5 672.8,423.9 C675.5,427.3 678.2,430.8 680.8,434.2 C683.5,437.6 686.2,441.1 688.8,444.5 C691.5,448.0 694.2,451.4 696.9,454.8 C699.5,458.3 702.2,461.7 704.9,465.1 C707.6,468.6 710.2,472.0 712.9,475.4 C715.6,478.9 718.2,482.3 720.9,485.8 C723.6,489.2 726.3,492.6 728.9,496.1 C731.6,499.5 734.3,502.9 737.0,506.4 C739.6,509.8 742.3,513.2 745.0,516.7 C747.7,520.1 750.3,523.5 753.0,526.9 C755.7,530.4 758.3,533.8 761.0,537.2 C763.7,540.7 766.4,544.1 769.0,547.5 C771.7,550.9 774.4,554.4 777.1,557.8 C779.7,561.2 782.4,564.6 785.1,568.0 C787.8,571.5 790.4,574.9 793.1,578.3 C795.8,581.7 798.4,585.1 801.1,588.6 C803.8,592.0 806.5,595.4 809.1,598.8 C811.8,602.2 814.5,605.6 817.2,609.0 C819.8,612.4 822.5,615.8 825.2,619.2 C827.8,622.6 830.5,626.0 833.2,629.4 C835.9,632.8 838.5,636.2 841.2,639.6 C843.9,643.0 846.6,646.4 849.2,649.8 C851.9,653.2 854.6,656.6 857.2,660.0 C859.9,663.3 862.6,666.7 865.3,670.1 C867.9,673.5 870.6,676.9 873.3,680.2 C876.0,683.6 878.6,687.0 881.3,690.3 C884.0,693.7 886.7,697.1 889.3,700.4 C892.0,703.8 894.7,707.2 897.3,710.5 C900.0,713.9 902.7,717.2 905.4,720.6 C908.0,723.9 910.7,727.3 913.4,730.6 C916.1,733.9 918.7,737.3 921.4,740.6 C924.1,743.9 926.8,747.3 929.4,750.6 C932.1,753.9 934.8,757.2 937.4,760.6 C940.1,763.9 942.8,767.2 945.5,770.5 C948.1,773.8 950.8,777.1 953.5,780.4 C956.2,783.7 958.8,787.0 961.5,790.3 C964.2,793.6 966.8,796.9 969.5,800.1 C972.2,803.4 974.9,806.7 977.5,810.0 C980.2,813.2 982.9,816.5 985.6,819.7 C988.2,823.0 990.9,826.3 993.6,829.5 C996.2,832.8 998.9,836.0 1001.6,839.2 C1004.3,842.5 1006.9,845.7 1009.6,848.9 C1012.3,852.2 1015.0,855.4 1017.6,858.6 C1020.3,861.8 1023.0,865.0 1025.7,868.2 C1028.3,871.4 1031.0,874.6 1033.7,877.8 C1036.3,881.0 1039.0,884.2 1041.7,887.4 C1044.4,890.6 1047.0,893.7 1049.7,896.9 C1052.4,900.1 1055.1,903.2 1057.7,906.4 C1060.4,909.5 1063.1,912.7 1065.8,915.8 C1068.4,919.0 1071.1,922.1 1073.8,925.3 C1076.4,928.4 1079.1,931.6 1081.8,934.7 C1084.5,937.9 1087.1,941.0 1089.8,944.1 C1092.5,947.3 1095.2,950.4 1097.8,953.6 C1100.5,956.7 1103.2,959.9 1105.8,963.0 C1108.5,966.1 1111.2,969.3 1113.9,972.5 C1116.5,975.6 1119.2,978.8 1121.9,981.9 C1124.6,985.1 1127.2,988.3 1129.9,991.4 C1132.6,994.6 1135.3,997.8 1137.9,1000.9 C1140.6,1004.1 1143.3,1007.3 1145.9,1010.4 C1148.6,1013.6 1151.3,1016.8 1154.0,1020.0 C1156.6,1023.1 1159.3,1026.3 1162.0,1029.4 C1164.7,1032.6 1167.3,1035.7 1170.0,1038.9 C1172.7,1042.0 1175.3,1045.1 1178.0,1048.3 C1180.7,1051.4 1183.4,1054.5 1186.0,1057.6 C1188.7,1060.7 1191.4,1063.8 1194.1,1066.8 C1196.7,1069.9 1199.4,1073.0 1202.1,1076.0 C1204.8,1079.0 1207.4,1082.0 1210.1,1085.0 C1212.8,1088.0 1215.4,1091.0 1218.1,1094.0 C1220.8,1096.9 1223.5,1099.9 1226.1,1102.8 C1228.8,1105.7 1231.5,1108.6 1234.2,1111.4 C1236.8,1114.3 1239.5,1117.1 1242.2,1119.9 C1244.8,1122.7 1247.5,1125.5 1250.2,1128.3 C1252.9,1131.0 1255.5,1133.8 1258.2,1136.5 C1260.9,1139.2 1263.6,1141.9 1266.2,1144.5 C1268.9,1147.2 1271.6,1149.8 1274.2,1152.5 C1276.9,1155.1 1279.6,1157.7 1282.3,1160.3 C1284.9,1162.9 1287.6,1165.5 1290.3,1168.1 C1293.0,1170.7 1295.6,1173.2 1298.3,1175.8 C1301.0,1178.4 1303.7,1180.9 1306.3,1183.5 C1309.0,1186.0 1311.7,1188.6 1314.3,1191.1 C1317.0,1193.7 1319.7,1196.2 1322.4,1198.8 C1325.0,1201.3 1327.7,1203.9 1330.4,1206.4 C1333.1,1209.0 1335.7,1211.6 1338.4,1214.1 C1341.1,1216.7 1343.8,1219.3 1346.4,1221.9 C1349.1,1224.4 1351.8,1227.0 1354.4,1229.7 C1357.1,1232.3 1359.8,1234.9 1362.5,1237.5 C1365.1,1240.2 1367.8,1242.8 1370.5,1245.5 C1373.2,1248.2 1377.2,1252.3 1378.5,1253.6" fill="none" stroke="#9133c6" stroke-width="2.5" stroke-linejoin="round" stroke-linecap="butt" />
<path d="M835.0,0.8 C836.3,2.5 840.4,7.4 843.1,10.8 C845.8,14.1 848.5,17.4 851.1,20.8 C853.8,24.1 856.5,27.4 859.2,30.8 C861.9,34.1 864.6,37.4 867.3,40.8 C870.0,44.1 872.7,47.5 875.4,50.8 C878.1,54.2 880.7,57.5 883.4,60.9 C886.1,64.2 888.8,67.6 891.5,71.0 C894.2,74.3 896.9,77.7 899.6,81.0 C902.3,84.4 905.0,87.8 907.7,91.2 C910.3,94.5 913.0,97.9 915.7,101.3 C918.4,104.7 921.1,108.1 923.8,111.4 C926.5,114.8 929.2,118.2 931.9,121.6 C934.6,125.0 937.2,128.4 939.9,131.8 C942.6,135.2 945.3,138.6 948.0,142.1 C950.7,145.5 953.4,148.9 956.1,152.3 C958.8,155.7 961.5,159.2 964.2,162.6 C966.8,166.0 969.5,169.5 972.2,172.9 C974.9,176.3 977.6,179.8 980.3,183.2 C983.0,186.7 985.7,190.1 988.4,193.6 C991.1,197.0 993.8,200.5 996.4,204.0 C999.1,207.4 1001.8,210.9 1004.5,214.4 C1007.2,217.9 1009.9,221.4 1012.6,224.9 C1015.3,228.3 1018.0,231.8 1020.7,235.3 C1023.4,238.8 1026.0,242.3 1028.7,245.9 C1031.4,249.4 1034.1,252.9 1036.8,256.4 C1039.5,259.9 1042.2,263.5 1044.9,267.0 C1047.6,270.5 1050.3,274.1 1053.0,277.6 C1055.6,281.2 1058.3,284.7 1061.0,288.3 C1063.7,291.8 1066.4,295.4 1069.1,299.0 C1071.8,302.5 1074.5,306.1 1077.2,309.7 C1079.9,313.3 1082.6,316.9 1085.2,320.5 C1087.9,324.1 1090.6,327.7 1093.3,331.3 C1096.0,334.9 1098.7,338.5 1101.4,342.1 C1104.1,345.7 1106.8,349.4 1109.5,353.0 C1112.1,356.6 1114.8,360.3 1117.5,363.9 C1120.2,367.6 1122.9,371.2 1125.6,374.9 C1128.3,378.5 1131.0,382.2 1133.7,385.8 C1136.4,389.5 1139.1,393.2 1141.7,396.8 C1144.4,400.5 1147.1,404.2 1149.8,407.9 C1152.5,411.5 1155.2,415.2 1157.9,418.9 C1160.6,422.6 1163.3,426.3 1166.0,430.0 C1168.7,433.7 1171.3,437.4 1174.0,441.1 C1176.7,444.8 1179.4,448.5 1182.1,452.2 C1184.8,455.9 1187.5,459.6 1190.2,463.3 C1192.9,467.0 1195.6,470.7 1198.3,474.5 C1200.9,478.2 1203.6,481.9 1206.3,485.6 C1209.0,489.3 1211.7,493.0 1214.4,496.8 C1217.1,500.5 1219.8,504.2 1222.5,507.9 C1225.2,511.7 1227.9,515.4 1230.5,519.1 C1233.2,522.8 1235.9,526.5 1238.6,530.3 C1241.3,534.0 1244.0,537.7 1246.7,541.4 C1249.4,545.2 1252.1,548.9 1254.8,552.6 C1257.4,556.3 1260.1,560.1 1262.8,563.8 C1265.5,567.5 1268.2,571.2 1270.9,574.9 C1273.6,578.7 1276.3,582.4 1279.0,586.1 C1281.7,589.8 1284.4,593.5 1287.0,597.2 C1289.7,600.9 1292.4,604.6 1295.1,608.3 C1297.8,612.0 1300.5,615.7 1303.2,619.4 C1305.9,623.1 1308.6,626.8 1311.3,630.5 C1314.0,634.2 1316.6,637.8 1319.3,641.5 C1322.0,645.2 1324.7,648.8 1327.4,652.5 C1330.1,656.2 1332.8,659.8 1335.5,663.4 C1338.2,667.1 1340.9,670.7 1343.6,674.4 C1346.2,678.0 1348.9,681.6 1351.6,685.2 C1354.3,688.8 1357.0,692.4 1359.7,696.0 C1362.4,699.6 1365.1,703.2 1367.8,706.8 C1370.5,710.4 1373.2,713.9 1375.8,717.5 C1378.5,721.1 1381.2,724.6 1383.9,728.1 C1386.6,731.7 1389.3,735.2 1392.0,738.7 C1394.7,742.2 1397.4,745.7 1400.1,749.2 C1402.8,752.7 1405.4,756.2 1408.1,759.7 C1410.8,763.1 1413.5,766.6 1416.2,770.0 C1418.9,773.4 1421.6,776.9 1424.3,780.3 C1427.0,783.7 1429.7,787.1 1432.3,790.5 C1435.0,793.9 1437.7,797.2 1440.4,800.6 C1443.1,803.9 1445.8,807.3 1448.5,810.6 C1451.2,813.9 1453.9,817.2 1456.6,820.5 C1459.3,823.8 1461.9,827.0 1464.6,830.3 C1467.3,833.5 1470.0,836.8 1472.7,840.0 C1475.4,843.2 1478.1,846.4 1480.8,849.6 C1483.5,852.8 1486.2,855.9 1488.9,859.1 C1491.5,862.2 1494.2,865.3 1496.9,868.4 C1499.6,871.5 1503.7,876.1 1505.0,877.7" fill="none" stroke="#9133c6" stroke-width="2.5" stroke-linejoin="round" stroke-linecap="butt" />
<path d="M1082.0,0.1 C1083.4,1.5 1087.4,5.5 1090.1,8.1 C1092.8,10.8 1095.6,13.4 1098.3,16.0 C1101.0,18.6 1103.7,21.2 1106.4,23.8 C1109.1,26.3 1111.8,28.9 1114.5,31.4 C1117.2,33.9 1120.0,36.5 1122.7,39.0 C1125.4,41.5 1128.1,43.9 1130.8,46.4 C1133.5,48.9 1136.2,51.3 1138.9,53.8 C1141.7,56.2 1144.4,58.6 1147.1,61.0 C1149.8,63.4 1152.5,65.8 1155.2,68.1 C1157.9,70.5 1160.6,72.9 1163.3,75.2 C1166.1,77.5 1168.8,79.9 1171.5,82.2 C1174.2,84.5 1176.9,86.7 1179.6,89.0 C1182.3,91.3 1185.0,93.6 1187.8,95.8 C1190.5,98.0 1193.2,100.3 1195.9,102.5 C1198.6,104.7 1201.3,106.9 1204.0,109.1 C1206.7,111.3 1209.4,113.4 1212.2,115.6 C1214.9,117.8 1217.6,119.9 1220.3,122.0 C1223.0,124.2 1225.7,126.3 1228.4,128.4 C1231.1,130.5 1233.8,132.6 1236.6,134.6 C1239.3,136.7 1242.0,138.8 1244.7,140.8 C1247.4,142.9 1250.1,144.9 1252.8,147.0 C1255.5,149.0 1258.2,151.0 1261.0,153.0 C1263.7,155.0 1266.4,157.0 1269.1,159.0 C1271.8,161.0 1274.5,162.9 1277.2,164.9 C1279.9,166.9 1282.7,168.8 1285.4,170.7 C1288.1,172.7 1290.8,174.6 1293.5,176.5 C1296.2,178.4 1298.9,180.3 1301.6,182.2 C1304.3,184.1 1307.1,186.0 1309.8,187.9 C1312.5,189.7 1315.2,191.6 1317.9,193.5 C1320.6,195.3 1323.3,197.2 1326.0,199.0 C1328.8,200.8 1331.5,202.7 1334.2,204.5 C1336.9,206.3 1339.6,208.1 1342.3,209.9 C1345.0,211.7 1347.7,213.5 1350.4,215.3 C1353.2,217.0 1355.9,218.8 1358.6,220.6 C1361.3,222.3 1364.0,224.1 1366.7,225.9 C1369.4,227.6 1372.1,229.3 1374.8,231.1 C1377.6,232.8 1380.3,234.5 1383.0,236.3 C1385.7,238.0 1388.4,239.7 1391.1,241.4 C1393.8,243.1 1396.5,244.8 1399.2,246.5 C1402.0,248.2 1404.7,249.9 1407.4,251.6 C1410.1,253.2 1412.8,254.9 1415.5,256.6 C1418.2,258.3 1420.9,259.9 1423.7,261.6 C1426.4,263.2 1429.1,264.9 1431.8,266.5 C1434.5,268.2 1437.2,269.8 1439.9,271.5 C1442.6,273.1 1445.3,274.7 1448.1,276.4 C1450.8,278.0 1453.5,279.6 1456.2,281.2 C1458.9,282.9 1461.6,284.5 1464.3,286.1 C1467.0,287.7 1469.8,289.3 1472.5,290.9 C1475.2,292.5 1477.9,294.1 1480.6,295.7 C1483.3,297.3 1486.0,298.9 1488.7,300.5 C1491.4,302.1 1494.2,303.7 1496.9,305.3 C1499.6,306.9 1503.6,309.2 1505.0,310.0" fill="none" stroke="#9133c6" stroke-width="2.5" stroke-linejoin="round" stroke-linecap="butt" />
<path d="M610.0,0.0 C616.5,10.0 633.6,36.7 649.3,60.0 C664.9,83.3 675.1,100.0 703.9,140.0 C732.6,180.0 782.4,246.9 821.8,300.0 C861.1,353.1 915.5,425.3 940.0,458.6 C964.5,491.9 932.3,450.0 969.0,500.0 C1005.7,550.0 1108.3,691.9 1160.0,758.6 C1211.7,825.3 1248.4,863.1 1279.3,900.0 C1310.2,936.9 1326.7,958.2 1345.2,980.2 C1363.7,1002.2 1380.5,1020.9 1390.1,1032.0 C1399.7,1043.1 1395.0,1036.2 1402.9,1046.6 C1410.8,1057.0 1430.3,1084.5 1437.7,1094.3 C1445.1,1104.1 1437.2,1092.9 1447.5,1105.3 C1457.8,1117.7 1489.8,1157.1 1499.4,1168.8 C1509.0,1180.5 1504.1,1174.4 1505.0,1175.5" fill="none" stroke="#9133c6" stroke-width="2.5" stroke-linejoin="round" stroke-linecap="butt" />
</g>
<g clip-path="url(#ax)">
<line x1="318.9" y1="134" x2="419.5" y2="134" stroke="#466ef5" stroke-width="2.6"/>
<line x1="376.6" y1="65.1" x2="376.6" y2="203" stroke="#466ef5" stroke-width="2.6"/>
<line x1="445.9" y1="244.5" x2="489.3" y2="244.5" stroke="#466ef5" stroke-width="2.6"/>
<line x1="469" y1="221.2" x2="469" y2="259" stroke="#466ef5" stroke-width="2.6"/>
<line x1="733" y1="154.9" x2="733" y2="193" stroke="#466ef5" stroke-width="2.6"/>
<line x1="733" y1="209.9" x2="733" y2="247.4" stroke="#466ef5" stroke-width="2.6"/>
<line x1="713.6" y1="248" x2="832.6" y2="248" stroke="#466ef5" stroke-width="2.6"/>
<line x1="782.8" y1="213.7" x2="782.8" y2="248" stroke="#466ef5" stroke-width="2.6"/>
<line x1="758.2" y1="277.4" x2="832.6" y2="277.4" stroke="#466ef5" stroke-width="2.6"/>
<line x1="758.2" y1="256.6" x2="832.6" y2="256.6" stroke="#466ef5" stroke-width="2.6"/>
<line x1="758.2" y1="303.6" x2="832.6" y2="303.6" stroke="#466ef5" stroke-width="2.6"/>
<line x1="781.8" y1="303.6" x2="781.8" y2="322.3" stroke="#466ef5" stroke-width="2.6"/>
<line x1="506.8" y1="334.5" x2="793.6" y2="334.5" stroke="#466ef5" stroke-width="2.6"/>
<line x1="625.7" y1="275.9" x2="625.7" y2="419.5" stroke="#466ef5" stroke-width="2.6"/>
<line x1="506.8" y1="362.1" x2="759.1" y2="362.1" stroke="#466ef5" stroke-width="2.6"/>
<line x1="506.8" y1="373.6" x2="777.5" y2="373.6" stroke="#466ef5" stroke-width="2.6"/>
<line x1="695.2" y1="358.6" x2="695.2" y2="388.5" stroke="#466ef5" stroke-width="2.6"/>
<line x1="506.8" y1="451.7" x2="793.6" y2="451.7" stroke="#466ef5" stroke-width="2.6"/>
<line x1="625.7" y1="428.7" x2="625.7" y2="474.7" stroke="#466ef5" stroke-width="2.6"/>
<line x1="1051.7" y1="240.8" x2="1085.3" y2="240.8" stroke="#466ef5" stroke-width="2.6"/>
<line x1="1072" y1="225.3" x2="1072" y2="256.3" stroke="#466ef5" stroke-width="2.6"/>
<line x1="1087.9" y1="279.6" x2="1136.4" y2="279.6" stroke="#466ef5" stroke-width="2.6"/>
<line x1="1114.7" y1="264.7" x2="1114.7" y2="295.1" stroke="#466ef5" stroke-width="2.6"/>
<line x1="1020.7" y1="341.6" x2="1046" y2="341.6" stroke="#466ef5" stroke-width="2.6"/>
<line x1="951" y1="84.2" x2="1505" y2="84.2" stroke="#466ef5" stroke-width="2.6"/>
<line x1="1296.2" y1="134.4" x2="1505" y2="134.4" stroke="#466ef5" stroke-width="2.6"/>
<line x1="901.6" y1="201.7" x2="1505" y2="201.7" stroke="#466ef5" stroke-width="2.6"/>
<line x1="1108" y1="214" x2="1505" y2="214" stroke="#466ef5" stroke-width="2.6"/>
<line x1="1243.3" y1="208.5" x2="1505" y2="208.5" stroke="#466ef5" stroke-width="2.6"/>
<line x1="1108" y1="204.9" x2="1505" y2="204.9" stroke="#466ef5" stroke-width="2.6"/>
<line x1="1399.8" y1="181" x2="1399.8" y2="246.3" stroke="#466ef5" stroke-width="2.6"/>
<line x1="870.3" y1="251.5" x2="1505" y2="251.5" stroke="#466ef5" stroke-width="2.6"/>
<line x1="1388.2" y1="231" x2="1388.2" y2="270.9" stroke="#466ef5" stroke-width="2.6"/>
<line x1="1127.4" y1="275.7" x2="1198.7" y2="275.7" stroke="#466ef5" stroke-width="2.6"/>
<line x1="1170.4" y1="256.6" x2="1170.4" y2="291.4" stroke="#466ef5" stroke-width="2.6"/>
<line x1="1218" y1="274.6" x2="1278" y2="274.6" stroke="#466ef5" stroke-width="2.6"/>
<line x1="1250.7" y1="252.2" x2="1250.7" y2="296.4" stroke="#466ef5" stroke-width="2.6"/>
<line x1="1199" y1="283.5" x2="1336.8" y2="283.5" stroke="#466ef5" stroke-width="2.6"/>
<line x1="1296.2" y1="260.4" x2="1296.2" y2="326" stroke="#466ef5" stroke-width="2.6"/>
<line x1="1153.2" y1="272" x2="1420.5" y2="272" stroke="#466ef5" stroke-width="2.6"/>
<line x1="1317.9" y1="256.6" x2="1317.9" y2="287" stroke="#466ef5" stroke-width="2.6"/>
<line x1="1020.6" y1="304" x2="1317.9" y2="304" stroke="#466ef5" stroke-width="2.6"/>
<line x1="1226.7" y1="284.6" x2="1226.7" y2="304" stroke="#466ef5" stroke-width="2.6"/>
<line x1="1108" y1="315.1" x2="1265.1" y2="315.1" stroke="#466ef5" stroke-width="2.6"/>
<line x1="1020.6" y1="330" x2="1317.9" y2="330" stroke="#466ef5" stroke-width="2.6"/>
<line x1="1226.7" y1="330" x2="1226.7" y2="350.5" stroke="#466ef5" stroke-width="2.6"/>
<line x1="1164.2" y1="326.5" x2="1357.8" y2="326.5" stroke="#466ef5" stroke-width="2.6"/>
<line x1="445.9" y1="275.6" x2="489.3" y2="275.6" stroke="#466ef5" stroke-width="2.6"/>
<line x1="469" y1="259" x2="469" y2="314.4" stroke="#466ef5" stroke-width="2.6"/>
<line x1="406.6" y1="315" x2="406.6" y2="365.5" stroke="#466ef5" stroke-width="2.6"/>
<line x1="794.5" y1="366.4" x2="902" y2="366.4" stroke="#466ef5" stroke-width="2.6"/>
<line x1="852.4" y1="308.2" x2="852.4" y2="420.7" stroke="#466ef5" stroke-width="2.6"/>
<circle cx="376.6" cy="134" r="12.35" fill="#5179f5" stroke="#000" stroke-width="2.7"/>
<circle cx="469" cy="244.5" r="12.35" fill="#5179f5" stroke="#000" stroke-width="2.7"/>
<circle cx="733" cy="193" r="12.35" fill="#5179f5" stroke="#000" stroke-width="2.7"/>
<circle cx="733" cy="209.9" r="12.35" fill="#5179f5" stroke="#000" stroke-width="2.7"/>
<circle cx="782.8" cy="248" r="12.35" fill="#5179f5" stroke="#000" stroke-width="2.7"/>
<circle cx="781.8" cy="277.4" r="12.35" fill="#5179f5" stroke="#000" stroke-width="2.7"/>
<circle cx="781.8" cy="256.6" r="12.35" fill="#5179f5" stroke="#000" stroke-width="2.7"/>
<circle cx="781.8" cy="303.6" r="12.35" fill="#5179f5" stroke="#000" stroke-width="2.7"/>
<circle cx="625.7" cy="334.5" r="12.35" fill="#5179f5" stroke="#000" stroke-width="2.7"/>
<circle cx="625.7" cy="362.1" r="12.35" fill="#5179f5" stroke="#000" stroke-width="2.7"/>
<circle cx="695.2" cy="373.6" r="12.35" fill="#5179f5" stroke="#000" stroke-width="2.7"/>
<circle cx="625.7" cy="451.7" r="12.35" fill="#5179f5" stroke="#000" stroke-width="2.7"/>
<circle cx="1072" cy="240.8" r="12.35" fill="#5179f5" stroke="#000" stroke-width="2.7"/>
<circle cx="1114.7" cy="279.6" r="12.35" fill="#5179f5" stroke="#000" stroke-width="2.7"/>
<circle cx="1046.6" cy="341.6" r="12.35" fill="#5179f5" stroke="#000" stroke-width="2.7"/>
<circle cx="1388.6" cy="84.2" r="12.35" fill="#5179f5" stroke="#000" stroke-width="2.7"/>
<circle cx="1428.5" cy="134.4" r="12.35" fill="#5179f5" stroke="#000" stroke-width="2.7"/>
<circle cx="1388.2" cy="201.7" r="12.35" fill="#5179f5" stroke="#000" stroke-width="2.7"/>
<circle cx="1399.8" cy="214" r="12.35" fill="#5179f5" stroke="#000" stroke-width="2.7"/>
<circle cx="1417.9" cy="208.5" r="12.35" fill="#5179f5" stroke="#000" stroke-width="2.7"/>
<circle cx="1399.8" cy="204.9" r="12.35" fill="#5179f5" stroke="#000" stroke-width="2.7"/>
<circle cx="1388.2" cy="251.5" r="12.35" fill="#5179f5" stroke="#000" stroke-width="2.7"/>
<circle cx="1170.4" cy="275.7" r="12.35" fill="#5179f5" stroke="#000" stroke-width="2.7"/>
<circle cx="1250.7" cy="274.6" r="12.35" fill="#5179f5" stroke="#000" stroke-width="2.7"/>
<circle cx="1296.2" cy="283.5" r="12.35" fill="#5179f5" stroke="#000" stroke-width="2.7"/>
<circle cx="1317.9" cy="272" r="12.35" fill="#5179f5" stroke="#000" stroke-width="2.7"/>
<circle cx="1226.7" cy="304" r="12.35" fill="#5179f5" stroke="#000" stroke-width="2.7"/>
<circle cx="1203.7" cy="315.1" r="12.35" fill="#5179f5" stroke="#000" stroke-width="2.7"/>
<circle cx="1226.7" cy="330" r="12.35" fill="#5179f5" stroke="#000" stroke-width="2.7"/>
<circle cx="1298.6" cy="326.5" r="12.35" fill="#5179f5" stroke="#000" stroke-width="2.7"/>
<circle cx="469" cy="275.6" r="12.35" fill="#fff" stroke="#466ef5" stroke-width="3.4"/>
<circle cx="406.6" cy="334.4" r="12.35" fill="#fff" stroke="#466ef5" stroke-width="3.4"/>
<line x1="446" y1="811.4" x2="488.6" y2="811.4" stroke="#c80c12" stroke-width="2.6"/>
<line x1="469" y1="753.3" x2="469" y2="870" stroke="#c80c12" stroke-width="2.6"/>
<line x1="758" y1="362.1" x2="819" y2="362.1" stroke="#c80c12" stroke-width="2.6"/>
<line x1="781.6" y1="322.3" x2="781.6" y2="447" stroke="#c80c12" stroke-width="2.6"/>
<line x1="758" y1="420.4" x2="832.6" y2="420.4" stroke="#c80c12" stroke-width="2.6"/>
<line x1="758" y1="459.5" x2="832.6" y2="459.5" stroke="#c80c12" stroke-width="2.6"/>
<line x1="785.9" y1="348.9" x2="870.6" y2="348.9" stroke="#c80c12" stroke-width="2.6"/>
<line x1="794.5" y1="358.2" x2="870.6" y2="358.2" stroke="#c80c12" stroke-width="2.6"/>
<line x1="831.4" y1="358.2" x2="831.4" y2="381.2" stroke="#c80c12" stroke-width="2.6"/>
<line x1="713.1" y1="381.6" x2="989.3" y2="381.6" stroke="#c80c12" stroke-width="2.6"/>
<line x1="1020.6" y1="358.6" x2="1060" y2="358.6" stroke="#c80c12" stroke-width="2.6"/>
<line x1="1046.2" y1="319.5" x2="1046.2" y2="397.3" stroke="#c80c12" stroke-width="2.6"/>
<line x1="1052" y1="343.2" x2="1079.9" y2="343.2" stroke="#c80c12" stroke-width="2.6"/>
<line x1="1058.8" y1="320.8" x2="1058.8" y2="343.2" stroke="#c80c12" stroke-width="2.6"/>
<line x1="1072" y1="334.5" x2="1072" y2="389.1" stroke="#c80c12" stroke-width="2.6"/>
<line x1="1088.6" y1="330.6" x2="1136.3" y2="330.6" stroke="#c80c12" stroke-width="2.6"/>
<line x1="1114.6" y1="303.7" x2="1114.6" y2="357.4" stroke="#c80c12" stroke-width="2.6"/>
<line x1="1088.6" y1="377.5" x2="1152.6" y2="377.5" stroke="#c80c12" stroke-width="2.6"/>
<line x1="1125.7" y1="347.2" x2="1125.7" y2="404.4" stroke="#c80c12" stroke-width="2.6"/>
<line x1="902" y1="474.4" x2="1284.3" y2="474.4" stroke="#c80c12" stroke-width="2.6"/>
<line x1="1089.8" y1="453.9" x2="1089.8" y2="495.7" stroke="#c80c12" stroke-width="2.6"/>
<line x1="1108.3" y1="343.4" x2="1383.7" y2="343.4" stroke="#c80c12" stroke-width="2.6"/>
<line x1="1296.2" y1="343.4" x2="1296.2" y2="389.7" stroke="#c80c12" stroke-width="2.6"/>
<line x1="1193" y1="373.8" x2="1364.6" y2="373.8" stroke="#c80c12" stroke-width="2.6"/>
<line x1="1308.8" y1="345.4" x2="1308.8" y2="401.1" stroke="#c80c12" stroke-width="2.6"/>
<line x1="1377.2" y1="352" x2="1505" y2="352" stroke="#c80c12" stroke-width="2.6"/>
<line x1="1450.9" y1="331" x2="1450.9" y2="373.7" stroke="#c80c12" stroke-width="2.6"/>
<line x1="1415.1" y1="325" x2="1505" y2="325" stroke="#c80c12" stroke-width="2.6"/>
<line x1="1464.5" y1="305.2" x2="1464.5" y2="344.6" stroke="#c80c12" stroke-width="2.6"/>
<line x1="1199" y1="420.4" x2="1336.8" y2="420.4" stroke="#c80c12" stroke-width="2.6"/>
<line x1="1296.2" y1="389.3" x2="1296.2" y2="420.4" stroke="#c80c12" stroke-width="2.6"/>
<line x1="1265.1" y1="436.7" x2="1317.5" y2="436.7" stroke="#c80c12" stroke-width="2.6"/>
<line x1="1265.1" y1="467.2" x2="1317.5" y2="467.2" stroke="#c80c12" stroke-width="2.6"/>
<line x1="1296.2" y1="467.2" x2="1296.2" y2="494.4" stroke="#c80c12" stroke-width="2.6"/>
<line x1="1108.3" y1="402.4" x2="1505" y2="402.4" stroke="#c80c12" stroke-width="2.6"/>
<line x1="1400.1" y1="382.8" x2="1400.1" y2="421.6" stroke="#c80c12" stroke-width="2.6"/>
<line x1="1400" y1="405.8" x2="1505" y2="405.8" stroke="#c80c12" stroke-width="2.6"/>
<line x1="1332.5" y1="401.1" x2="1484.5" y2="401.1" stroke="#c80c12" stroke-width="2.6"/>
<line x1="1436.3" y1="374" x2="1436.3" y2="428.7" stroke="#c80c12" stroke-width="2.6"/>
<line x1="989.3" y1="541.4" x2="1296.2" y2="541.4" stroke="#c80c12" stroke-width="2.6"/>
<line x1="1203.7" y1="518.2" x2="1203.7" y2="565.3" stroke="#c80c12" stroke-width="2.6"/>
<line x1="1369.4" y1="551.1" x2="1505" y2="551.1" stroke="#c80c12" stroke-width="2.6"/>
<line x1="1448.7" y1="529.1" x2="1448.7" y2="573.1" stroke="#c80c12" stroke-width="2.6"/>
<line x1="1322.3" y1="555.3" x2="1505" y2="555.3" stroke="#c80c12" stroke-width="2.6"/>
<line x1="1435.4" y1="534.3" x2="1435.4" y2="577.2" stroke="#c80c12" stroke-width="2.6"/>
<line x1="1450" y1="552.4" x2="1505" y2="552.4" stroke="#c80c12" stroke-width="2.6"/>
<line x1="1188.7" y1="606.1" x2="1505" y2="606.1" stroke="#c80c12" stroke-width="2.6"/>
<line x1="1409.1" y1="584.1" x2="1409.1" y2="628.7" stroke="#c80c12" stroke-width="2.6"/>
<line x1="782.8" y1="706.1" x2="1069.7" y2="706.1" stroke="#c80c12" stroke-width="2.6"/>
<line x1="1165.5" y1="682.2" x2="1390.7" y2="682.2" stroke="#c80c12" stroke-width="2.6"/>
<line x1="1365.9" y1="694" x2="1470.7" y2="694" stroke="#c80c12" stroke-width="2.6"/>
<line x1="1322.7" y1="717.6" x2="1505" y2="717.6" stroke="#c80c12" stroke-width="2.6"/>
<line x1="1435.3" y1="717.6" x2="1435.3" y2="744.3" stroke="#c80c12" stroke-width="2.6"/>
<line x1="989.3" y1="721.3" x2="1505" y2="721.3" stroke="#c80c12" stroke-width="2.6"/>
<line x1="1441.4" y1="749.8" x2="1505" y2="749.8" stroke="#c80c12" stroke-width="2.6"/>
<line x1="989.3" y1="780.3" x2="1505" y2="780.3" stroke="#c80c12" stroke-width="2.6"/>
<line x1="1250.9" y1="795.8" x2="1505" y2="795.8" stroke="#c80c12" stroke-width="2.6"/>
<line x1="1471.7" y1="776.6" x2="1471.7" y2="815.7" stroke="#c80c12" stroke-width="2.6"/>
<line x1="1322.7" y1="889.3" x2="1401.7" y2="889.3" stroke="#c80c12" stroke-width="2.6"/>
<line x1="1374.9" y1="874.6" x2="1374.9" y2="904.9" stroke="#c80c12" stroke-width="2.6"/>
<line x1="1227.1" y1="886.9" x2="1505" y2="886.9" stroke="#c80c12" stroke-width="2.6"/>
<line x1="1461.9" y1="889.3" x2="1497.7" y2="889.3" stroke="#c80c12" stroke-width="2.6"/>
<line x1="713.8" y1="912.5" x2="1428.7" y2="912.5" stroke="#c80c12" stroke-width="2.6"/>
<circle cx="469" cy="811.4" r="12.35" fill="#c8191c" stroke="#000" stroke-width="2.7"/>
<circle cx="781.6" cy="362.1" r="12.35" fill="#c8191c" stroke="#000" stroke-width="2.7"/>
<circle cx="781.6" cy="420.4" r="12.35" fill="#c8191c" stroke="#000" stroke-width="2.7"/>
<circle cx="781.6" cy="459.5" r="12.35" fill="#c8191c" stroke="#000" stroke-width="2.7"/>
<circle cx="832.3" cy="348.9" r="12.35" fill="#c8191c" stroke="#000" stroke-width="2.7"/>
<circle cx="831.4" cy="358.2" r="12.35" fill="#c8191c" stroke="#000" stroke-width="2.7"/>
<circle cx="901.8" cy="381.6" r="12.35" fill="#c8191c" stroke="#000" stroke-width="2.7"/>
<circle cx="1046.2" cy="358.6" r="12.35" fill="#c8191c" stroke="#000" stroke-width="2.7"/>
<circle cx="1058.8" cy="343.2" r="12.35" fill="#c8191c" stroke="#000" stroke-width="2.7"/>
<circle cx="1072" cy="362.2" r="12.35" fill="#c8191c" stroke="#000" stroke-width="2.7"/>
<circle cx="1114.6" cy="330.6" r="12.35" fill="#c8191c" stroke="#000" stroke-width="2.7"/>
<circle cx="1125.7" cy="377.5" r="12.35" fill="#c8191c" stroke="#000" stroke-width="2.7"/>
<circle cx="1089.8" cy="474.4" r="12.35" fill="#c8191c" stroke="#000" stroke-width="2.7"/>
<circle cx="1296.2" cy="343.4" r="12.35" fill="#c8191c" stroke="#000" stroke-width="2.7"/>
<circle cx="1308.8" cy="373.8" r="12.35" fill="#c8191c" stroke="#000" stroke-width="2.7"/>
<circle cx="1345.6" cy="353.7" r="12.35" fill="#c8191c" stroke="#000" stroke-width="2.7"/>
<circle cx="1450.9" cy="352" r="12.35" fill="#c8191c" stroke="#000" stroke-width="2.7"/>
<circle cx="1464.5" cy="325" r="12.35" fill="#c8191c" stroke="#000" stroke-width="2.7"/>
<circle cx="1296.2" cy="420.4" r="12.35" fill="#c8191c" stroke="#000" stroke-width="2.7"/>
<circle cx="1296.2" cy="436.7" r="12.35" fill="#c8191c" stroke="#000" stroke-width="2.7"/>
<circle cx="1296.2" cy="467.2" r="12.35" fill="#c8191c" stroke="#000" stroke-width="2.7"/>
<circle cx="1400.1" cy="402.4" r="12.35" fill="#c8191c" stroke="#000" stroke-width="2.7"/>
<circle cx="1448.7" cy="405.8" r="12.35" fill="#c8191c" stroke="#000" stroke-width="2.7"/>
<circle cx="1436.3" cy="401.1" r="12.35" fill="#c8191c" stroke="#000" stroke-width="2.7"/>
<circle cx="1203.7" cy="541.4" r="12.35" fill="#c8191c" stroke="#000" stroke-width="2.7"/>
<circle cx="1345.5" cy="562" r="12.35" fill="#c8191c" stroke="#000" stroke-width="2.7"/>
<circle cx="1448.7" cy="551.1" r="12.35" fill="#c8191c" stroke="#000" stroke-width="2.7"/>
<circle cx="1435.4" cy="555.3" r="12.35" fill="#c8191c" stroke="#000" stroke-width="2.7"/>
<circle cx="1476.8" cy="552.4" r="12.35" fill="#c8191c" stroke="#000" stroke-width="2.7"/>
<circle cx="1409.1" cy="606.1" r="12.35" fill="#c8191c" stroke="#000" stroke-width="2.7"/>
<circle cx="980.2" cy="706.1" r="12.35" fill="#c8191c" stroke="#000" stroke-width="2.7"/>
<circle cx="1312.4" cy="682.2" r="12.35" fill="#c8191c" stroke="#000" stroke-width="2.7"/>
<circle cx="1426.1" cy="694" r="12.35" fill="#c8191c" stroke="#000" stroke-width="2.7"/>
<circle cx="1435.3" cy="717.6" r="12.35" fill="#c8191c" stroke="#000" stroke-width="2.7"/>
<circle cx="1391.9" cy="721.3" r="12.35" fill="#c8191c" stroke="#000" stroke-width="2.7"/>
<circle cx="1502.4" cy="749.8" r="12.35" fill="#c8191c" stroke="#000" stroke-width="2.7"/>
<circle cx="1391.9" cy="780.3" r="12.35" fill="#c8191c" stroke="#000" stroke-width="2.7"/>
<circle cx="1471.7" cy="795.8" r="12.35" fill="#c8191c" stroke="#000" stroke-width="2.7"/>
<circle cx="1501.3" cy="842.1" r="12.35" fill="#c8191c" stroke="#000" stroke-width="2.7"/>
<circle cx="1374.9" cy="889.3" r="12.35" fill="#c8191c" stroke="#000" stroke-width="2.7"/>
<circle cx="1415" cy="886.9" r="12.35" fill="#c8191c" stroke="#000" stroke-width="2.7"/>
<circle cx="1480.6" cy="889.3" r="12.35" fill="#c8191c" stroke="#000" stroke-width="2.7"/>
<circle cx="1312.5" cy="912.5" r="12.35" fill="#c8191c" stroke="#000" stroke-width="2.7"/>
<circle cx="852.4" cy="366.4" r="12.35" fill="#5179f5" stroke="#000" stroke-width="2.7"/>
<line x1="1238" y1="1197" x2="1286.5" y2="1148.3" stroke="#a36f06" stroke-width="2.3"/>
<line x1="1177.7" y1="1211.1" x2="1265.1" y2="1211.1" stroke="#c29a2a" stroke-width="2.6"/>
<circle cx="1226.6" cy="1211.1" r="12.35" fill="#bf9a2e" stroke="#000" stroke-width="2.7"/>
<line x1="782.9" y1="1012.4" x2="1070.1" y2="1012.4" stroke="#c80c12" stroke-width="4.8"/>
<line x1="782.9" y1="999.7" x2="782.9" y2="1025.1" stroke="#c80c12" stroke-width="2.9"/>
<line x1="1070.1" y1="999.7" x2="1070.1" y2="1025.1" stroke="#c80c12" stroke-width="2.9"/>
<path d="M980.40,968.70 L990.19,998.83 L1021.87,998.83 L996.24,1017.45 L1006.03,1047.57 L980.40,1028.95 L954.77,1047.57 L964.56,1017.45 L938.93,998.83 L970.61,998.83 Z" fill="#c8191c" stroke="#000" stroke-width="4.6" stroke-linejoin="bevel"/>
</g>
<text transform="translate(216.26,42.80) scale(0.9602,1)" x="0" y="0" font-family="Liberation Sans, Arial, Helvetica, sans-serif" font-size="36.09" fill="#b466f2">6 M<tspan font-size="24.90" dy="2.63">Jup</tspan></text>
<text transform="translate(375.75,42.80) scale(0.9509,1)" x="0" y="0" font-family="Liberation Sans, Arial, Helvetica, sans-serif" font-size="35.94" fill="#b466f2">10 M<tspan font-size="24.80" dy="2.62">Jup</tspan></text>
<text transform="translate(640.65,42.80) scale(0.9701,1)" x="0" y="0" font-family="Liberation Sans, Arial, Helvetica, sans-serif" font-size="35.94" fill="#b466f2">20 M<tspan font-size="24.80" dy="2.62">Jup</tspan></text>
<text transform="translate(893.81,42.80) scale(0.9606,1)" x="0" y="0" font-family="Liberation Sans, Arial, Helvetica, sans-serif" font-size="35.94" fill="#b466f2">40 M<tspan font-size="24.80" dy="2.62">Jup</tspan></text>
<text transform="translate(1144.46,42.80) scale(0.9510,1)" x="0" y="0" font-family="Liberation Sans, Arial, Helvetica, sans-serif" font-size="35.94" fill="#b466f2">70 M<tspan font-size="24.80" dy="2.62">Jup</tspan></text>
<text transform="translate(221.63,481.80) scale(0.9785,1)" x="0" y="0" font-family="Liberation Sans, Arial, Helvetica, sans-serif" font-size="35.80" fill="#b466f2">2 M<tspan font-size="24.70" dy="2.61">Jup</tspan></text>
<text transform="translate(218.88,672.80) scale(0.9568,1)" x="0" y="0" font-family="Liberation Sans, Arial, Helvetica, sans-serif" font-size="35.94" fill="#5b848b">2 M<tspan font-size="24.80" dy="2.62">Jup</tspan></text>
<text transform="translate(406.07,672.80) scale(0.9670,1)" x="0" y="0" font-family="Liberation Sans, Arial, Helvetica, sans-serif" font-size="35.94" fill="#5b848b">6 M<tspan font-size="24.80" dy="2.62">Jup</tspan></text>
<text transform="translate(496.70,610.20) scale(0.9639,1)" x="0" y="0" font-family="Liberation Sans, Arial, Helvetica, sans-serif" font-size="35.94" fill="#5b848b">10 M<tspan font-size="24.80" dy="2.62">Jup</tspan></text>
<text transform="translate(213.95,757.00) scale(0.9462,1)" x="0" y="0" font-family="Liberation Sans, Arial, Helvetica, sans-serif" font-size="36.24" fill="#444444">10 M<tspan font-size="25.01" dy="2.65">Jup</tspan></text>
<text transform="translate(225.46,864.20) scale(0.9681,1)" x="0" y="0" font-family="Liberation Sans, Arial, Helvetica, sans-serif" font-size="35.94" fill="#444444">6 M<tspan font-size="24.80" dy="2.62">Jup</tspan></text>
<text transform="translate(225.46,1013.00) scale(0.9681,1)" x="0" y="0" font-family="Liberation Sans, Arial, Helvetica, sans-serif" font-size="35.94" fill="#444444">2 M<tspan font-size="24.80" dy="2.62">Jup</tspan></text>
<text transform="translate(272.80,368.60) scale(0.9976,1)" x="0" y="0" font-family="Liberation Sans, Arial, Helvetica, sans-serif" font-size="30.38" fill="#5286ee">YSES-1c</text>
<text transform="translate(479.69,314.20) scale(1.0636,1)" x="0" y="0" font-family="Liberation Sans, Arial, Helvetica, sans-serif" font-size="28.85" fill="#5286ee">β Pic c</text>
<text transform="translate(351.60,847.60) scale(1.0010,1)" x="0" y="0" font-family="Liberation Sans, Arial, Helvetica, sans-serif" font-size="30.24" fill="#cc2119">51 Eri b</text>
<text transform="translate(891.79,686.20) scale(1.0042,1)" x="0" y="0" font-family="Liberation Sans, Arial, Helvetica, sans-serif" font-size="29.96" fill="#cc2119">Ross 458C</text>
<text transform="translate(1169.84,949.40) scale(0.9699,1)" x="0" y="0" font-family="Liberation Sans, Arial, Helvetica, sans-serif" font-size="31.64" fill="#cc2119">GJ 504 b</text>
<text transform="translate(1248.40,1129.80) scale(0.9981,1)" x="0" y="0" font-family="Liberation Sans, Arial, Helvetica, sans-serif" font-size="30.24" fill="#a36c00">WD 0806-661B</text>
<rect x="1074.5" y="980.6" width="316" height="64.9" fill="#fff"/>
<text transform="translate(1083.28,1031.20) scale(0.8876,1)" x="0" y="0" font-family="Liberation Sans, Arial, Helvetica, sans-serif" font-size="46.86" fill="#cc2119">COCONUTS-2b</text>
<rect x="226" y="1041.8" width="412.5" height="185" fill="#fff" stroke="#000" stroke-width="3.6"/>
<circle cx="264.4" cy="1083.5" r="13.3" fill="#5179f5" stroke="#000" stroke-width="3.3"/>
<text transform="translate(298.00,1095.60) scale(0.9398,1)" x="0" y="0" font-family="Liberation Sans, Arial, Helvetica, sans-serif" font-size="36.55" fill="#5088f0">L6<tspan font-size="26.31" dx="3.65" dy="-1.72">—</tspan><tspan dx="4.20" dy="1.72">L9 Benchmarks</tspan></text>
<circle cx="264.4" cy="1136.5" r="13.3" fill="#c8191c" stroke="#000" stroke-width="3.3"/>
<text transform="translate(297.21,1150.80) scale(0.9297,1)" x="0" y="0" font-family="Liberation Sans, Arial, Helvetica, sans-serif" font-size="36.70" fill="#d25041">T0<tspan font-size="26.42" dx="3.67" dy="-1.72">—</tspan><tspan dx="4.22" dy="1.72">T9 Benchmarks</tspan></text>
<circle cx="264.4" cy="1191.7" r="12.5" fill="#bf9a2e" stroke="#000" stroke-width="3.3"/>
<text transform="translate(297.45,1202.60) scale(0.9494,1)" x="0" y="0" font-family="Liberation Sans, Arial, Helvetica, sans-serif" font-size="35.95" fill="#a56900">Y1 Benchmark</text>
<line x1="200.01" y1="1253.2" x2="200.01" y2="1243.2" stroke="#000" stroke-width="5.1"/>
<line x1="231.26" y1="1253.2" x2="231.26" y2="1243.2" stroke="#000" stroke-width="5.1"/>
<line x1="257.68" y1="1253.2" x2="257.68" y2="1243.2" stroke="#000" stroke-width="5.1"/>
<line x1="280.56" y1="1253.2" x2="280.56" y2="1243.2" stroke="#000" stroke-width="5.1"/>
<line x1="300.74" y1="1253.2" x2="300.74" y2="1243.2" stroke="#000" stroke-width="5.1"/>
<line x1="318.80" y1="1253.2" x2="318.80" y2="1233.2" stroke="#000" stroke-width="5.1"/>
<line x1="437.59" y1="1253.2" x2="437.59" y2="1243.2" stroke="#000" stroke-width="5.1"/>
<line x1="507.07" y1="1253.2" x2="507.07" y2="1243.2" stroke="#000" stroke-width="5.1"/>
<line x1="556.37" y1="1253.2" x2="556.37" y2="1243.2" stroke="#000" stroke-width="5.1"/>
<line x1="594.61" y1="1253.2" x2="594.61" y2="1243.2" stroke="#000" stroke-width="5.1"/>
<line x1="625.86" y1="1253.2" x2="625.86" y2="1243.2" stroke="#000" stroke-width="5.1"/>
<line x1="652.28" y1="1253.2" x2="652.28" y2="1243.2" stroke="#000" stroke-width="5.1"/>
<line x1="675.16" y1="1253.2" x2="675.16" y2="1243.2" stroke="#000" stroke-width="5.1"/>
<line x1="695.34" y1="1253.2" x2="695.34" y2="1243.2" stroke="#000" stroke-width="5.1"/>
<line x1="713.40" y1="1253.2" x2="713.40" y2="1233.2" stroke="#000" stroke-width="5.1"/>
<line x1="832.19" y1="1253.2" x2="832.19" y2="1243.2" stroke="#000" stroke-width="5.1"/>
<line x1="901.67" y1="1253.2" x2="901.67" y2="1243.2" stroke="#000" stroke-width="5.1"/>
<line x1="950.97" y1="1253.2" x2="950.97" y2="1243.2" stroke="#000" stroke-width="5.1"/>
<line x1="989.21" y1="1253.2" x2="989.21" y2="1243.2" stroke="#000" stroke-width="5.1"/>
<line x1="1020.46" y1="1253.2" x2="1020.46" y2="1243.2" stroke="#000" stroke-width="5.1"/>
<line x1="1046.88" y1="1253.2" x2="1046.88" y2="1243.2" stroke="#000" stroke-width="5.1"/>
<line x1="1069.76" y1="1253.2" x2="1069.76" y2="1243.2" stroke="#000" stroke-width="5.1"/>
<line x1="1089.94" y1="1253.2" x2="1089.94" y2="1243.2" stroke="#000" stroke-width="5.1"/>
<line x1="1108.00" y1="1253.2" x2="1108.00" y2="1233.2" stroke="#000" stroke-width="5.1"/>
<line x1="1226.79" y1="1253.2" x2="1226.79" y2="1243.2" stroke="#000" stroke-width="5.1"/>
<line x1="1296.27" y1="1253.2" x2="1296.27" y2="1243.2" stroke="#000" stroke-width="5.1"/>
<line x1="1345.57" y1="1253.2" x2="1345.57" y2="1243.2" stroke="#000" stroke-width="5.1"/>
<line x1="1383.81" y1="1253.2" x2="1383.81" y2="1243.2" stroke="#000" stroke-width="5.1"/>
<line x1="1415.06" y1="1253.2" x2="1415.06" y2="1243.2" stroke="#000" stroke-width="5.1"/>
<line x1="1441.48" y1="1253.2" x2="1441.48" y2="1243.2" stroke="#000" stroke-width="5.1"/>
<line x1="1464.36" y1="1253.2" x2="1464.36" y2="1243.2" stroke="#000" stroke-width="5.1"/>
<line x1="1484.54" y1="1253.2" x2="1484.54" y2="1243.2" stroke="#000" stroke-width="5.1"/>
<line x1="200.0" y1="1253.50" x2="220.0" y2="1253.50" stroke="#000" stroke-width="5.1"/>
<line x1="200.0" y1="1214.40" x2="210.0" y2="1214.40" stroke="#000" stroke-width="5.1"/>
<line x1="200.0" y1="1175.30" x2="210.0" y2="1175.30" stroke="#000" stroke-width="5.1"/>
<line x1="200.0" y1="1136.20" x2="210.0" y2="1136.20" stroke="#000" stroke-width="5.1"/>
<line x1="200.0" y1="1097.10" x2="210.0" y2="1097.10" stroke="#000" stroke-width="5.1"/>
<line x1="200.0" y1="1058.00" x2="220.0" y2="1058.00" stroke="#000" stroke-width="5.1"/>
<line x1="200.0" y1="1018.90" x2="210.0" y2="1018.90" stroke="#000" stroke-width="5.1"/>
<line x1="200.0" y1="979.80" x2="210.0" y2="979.80" stroke="#000" stroke-width="5.1"/>
<line x1="200.0" y1="940.70" x2="210.0" y2="940.70" stroke="#000" stroke-width="5.1"/>
<line x1="200.0" y1="901.60" x2="210.0" y2="901.60" stroke="#000" stroke-width="5.1"/>
<line x1="200.0" y1="862.50" x2="220.0" y2="862.50" stroke="#000" stroke-width="5.1"/>
<line x1="200.0" y1="823.40" x2="210.0" y2="823.40" stroke="#000" stroke-width="5.1"/>
<line x1="200.0" y1="784.30" x2="210.0" y2="784.30" stroke="#000" stroke-width="5.1"/>
<line x1="200.0" y1="745.20" x2="210.0" y2="745.20" stroke="#000" stroke-width="5.1"/>
<line x1="200.0" y1="706.10" x2="210.0" y2="706.10" stroke="#000" stroke-width="5.1"/>
<line x1="200.0" y1="667.00" x2="220.0" y2="667.00" stroke="#000" stroke-width="5.1"/>
<line x1="200.0" y1="627.90" x2="210.0" y2="627.90" stroke="#000" stroke-width="5.1"/>
<line x1="200.0" y1="588.80" x2="210.0" y2="588.80" stroke="#000" stroke-width="5.1"/>
<line x1="200.0" y1="549.70" x2="210.0" y2="549.70" stroke="#000" stroke-width="5.1"/>
<line x1="200.0" y1="510.60" x2="210.0" y2="510.60" stroke="#000" stroke-width="5.1"/>
<line x1="200.0" y1="471.50" x2="220.0" y2="471.50" stroke="#000" stroke-width="5.1"/>
<line x1="200.0" y1="432.40" x2="210.0" y2="432.40" stroke="#000" stroke-width="5.1"/>
<line x1="200.0" y1="393.30" x2="210.0" y2="393.30" stroke="#000" stroke-width="5.1"/>
<line x1="200.0" y1="354.20" x2="210.0" y2="354.20" stroke="#000" stroke-width="5.1"/>
<line x1="200.0" y1="315.10" x2="210.0" y2="315.10" stroke="#000" stroke-width="5.1"/>
<line x1="200.0" y1="276.00" x2="220.0" y2="276.00" stroke="#000" stroke-width="5.1"/>
<line x1="200.0" y1="236.90" x2="210.0" y2="236.90" stroke="#000" stroke-width="5.1"/>
<line x1="200.0" y1="197.80" x2="210.0" y2="197.80" stroke="#000" stroke-width="5.1"/>
<line x1="200.0" y1="158.70" x2="210.0" y2="158.70" stroke="#000" stroke-width="5.1"/>
<line x1="200.0" y1="119.60" x2="210.0" y2="119.60" stroke="#000" stroke-width="5.1"/>
<line x1="200.0" y1="80.50" x2="220.0" y2="80.50" stroke="#000" stroke-width="5.1"/>
<line x1="200.0" y1="41.40" x2="210.0" y2="41.40" stroke="#000" stroke-width="5.1"/>
<line x1="200.0" y1="2.30" x2="210.0" y2="2.30" stroke="#000" stroke-width="5.1"/>
<rect x="200.0" y="2.0" width="1302.5" height="1251.2" fill="none" stroke="#000" stroke-width="5.2"/>
<text x="175.6" y="96.4" font-family="DejaVu Sans, sans-serif" font-size="40.7" text-anchor="end">−4.0</text>
<text x="175.6" y="291.9" font-family="DejaVu Sans, sans-serif" font-size="40.7" text-anchor="end">−4.5</text>
<text x="175.6" y="487.4" font-family="DejaVu Sans, sans-serif" font-size="40.7" text-anchor="end">−5.0</text>
<text x="175.6" y="682.9" font-family="DejaVu Sans, sans-serif" font-size="40.7" text-anchor="end">−5.5</text>
<text x="175.6" y="878.4" font-family="DejaVu Sans, sans-serif" font-size="40.7" text-anchor="end">−6.0</text>
<text x="175.6" y="1073.9" font-family="DejaVu Sans, sans-serif" font-size="40.7" text-anchor="end">−6.5</text>
<text x="175.6" y="1269.4" font-family="DejaVu Sans, sans-serif" font-size="40.7" text-anchor="end">−7.0</text>
<text x="318.3" y="1309.0" font-family="DejaVu Sans, sans-serif" font-size="40.1" text-anchor="middle">10 Myr</text>
<text x="712.9" y="1309.0" font-family="DejaVu Sans, sans-serif" font-size="40.1" text-anchor="middle">100 Myr</text>
<text x="1107.5" y="1309.0" font-family="DejaVu Sans, sans-serif" font-size="40.1" text-anchor="middle">1 Gyr</text>
<text x="1502.1" y="1309.0" font-family="DejaVu Sans, sans-serif" font-size="40.1" text-anchor="middle">10 Gyr</text>
<text x="851.2" y="1382.4" font-family="DejaVu Sans, sans-serif" font-size="51" text-anchor="middle">Age</text>
<text transform="translate(38,628.6) rotate(-90)" font-family="DejaVu Sans, sans-serif" font-size="50.36" text-anchor="middle">Bolometric Luminosity log(<tspan font-style="italic">L</tspan><tspan font-size="35" dy="7">bol</tspan><tspan dy="-7">/</tspan><tspan font-style="italic">L</tspan><tspan font-size="35" dy="7">⊙</tspan><tspan dy="-7">)</tspan></text></svg></body></html>
